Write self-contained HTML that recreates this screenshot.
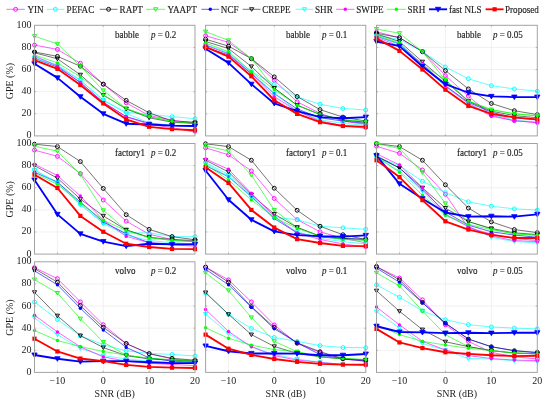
<!DOCTYPE html>
<html><head><meta charset="utf-8"><style>html,body{margin:0;padding:0;background:#fff;width:550px;height:404px;overflow:hidden;}svg{display:block;}</style></head>
<body>
<svg width="550" height="404" viewBox="0 0 550 404" font-family="Liberation Serif, serif">
<style>text.b{stroke:#1c1c1c;stroke-width:0.15px;}</style>
<rect width="550" height="404" fill="#fff"/>
<line x1="57.43" y1="25.30" x2="57.43" y2="135.90" stroke="#e8e8e8" stroke-width="0.6"/>
<line x1="103.29" y1="25.30" x2="103.29" y2="135.90" stroke="#e8e8e8" stroke-width="0.6"/>
<line x1="149.14" y1="25.30" x2="149.14" y2="135.90" stroke="#e8e8e8" stroke-width="0.6"/>
<line x1="34.50" y1="113.78" x2="195.00" y2="113.78" stroke="#e8e8e8" stroke-width="0.6"/>
<line x1="34.50" y1="91.66" x2="195.00" y2="91.66" stroke="#e8e8e8" stroke-width="0.6"/>
<line x1="34.50" y1="69.54" x2="195.00" y2="69.54" stroke="#e8e8e8" stroke-width="0.6"/>
<line x1="34.50" y1="47.42" x2="195.00" y2="47.42" stroke="#e8e8e8" stroke-width="0.6"/>
<text class="b" transform="translate(115.00,37.70) scale(0.9,1)" font-size="10.0" fill="#1c1c1c">babble</text>
<text class="b" transform="translate(150.90,37.70) scale(0.9,1)" font-size="10.0" fill="#1c1c1c"><tspan font-style="italic">p</tspan> = 0.2</text>
<polyline points="34.50,45.04 57.43,49.44 80.36,63.22 103.29,84.16 126.21,102.89 149.14,115.56 172.07,119.97 195.00,123.28" fill="none" stroke="#ff00ff" stroke-width="0.62" stroke-linejoin="round"/>
<circle cx="34.50" cy="45.04" r="1.95" fill="none" stroke="#ff00ff" stroke-width="0.95"/>
<circle cx="57.43" cy="49.44" r="1.95" fill="none" stroke="#ff00ff" stroke-width="0.95"/>
<circle cx="80.36" cy="63.22" r="1.95" fill="none" stroke="#ff00ff" stroke-width="0.95"/>
<circle cx="103.29" cy="84.16" r="1.95" fill="none" stroke="#ff00ff" stroke-width="0.95"/>
<circle cx="126.21" cy="102.89" r="1.95" fill="none" stroke="#ff00ff" stroke-width="0.95"/>
<circle cx="149.14" cy="115.56" r="1.95" fill="none" stroke="#ff00ff" stroke-width="0.95"/>
<circle cx="172.07" cy="119.97" r="1.95" fill="none" stroke="#ff00ff" stroke-width="0.95"/>
<circle cx="195.00" cy="123.28" r="1.95" fill="none" stroke="#ff00ff" stroke-width="0.95"/>
<polyline points="34.50,57.16 57.43,64.87 80.36,80.30 103.29,100.14 126.21,112.26 149.14,114.46 172.07,116.67 195.00,118.65" fill="none" stroke="#00ffff" stroke-width="0.62" stroke-linejoin="round"/>
<circle cx="34.50" cy="57.16" r="1.95" fill="none" stroke="#00ffff" stroke-width="0.95"/>
<circle cx="57.43" cy="64.87" r="1.95" fill="none" stroke="#00ffff" stroke-width="0.95"/>
<circle cx="80.36" cy="80.30" r="1.95" fill="none" stroke="#00ffff" stroke-width="0.95"/>
<circle cx="103.29" cy="100.14" r="1.95" fill="none" stroke="#00ffff" stroke-width="0.95"/>
<circle cx="126.21" cy="112.26" r="1.95" fill="none" stroke="#00ffff" stroke-width="0.95"/>
<circle cx="149.14" cy="114.46" r="1.95" fill="none" stroke="#00ffff" stroke-width="0.95"/>
<circle cx="172.07" cy="116.67" r="1.95" fill="none" stroke="#00ffff" stroke-width="0.95"/>
<circle cx="195.00" cy="118.65" r="1.95" fill="none" stroke="#00ffff" stroke-width="0.95"/>
<polyline points="34.50,51.98 57.43,56.39 80.36,66.19 103.29,84.16 126.21,100.36 149.14,112.81 172.07,121.07 195.00,122.18" fill="none" stroke="#000000" stroke-width="0.55" stroke-linejoin="round"/>
<circle cx="34.50" cy="51.98" r="1.95" fill="none" stroke="#000000" stroke-width="0.95"/>
<circle cx="57.43" cy="56.39" r="1.95" fill="none" stroke="#000000" stroke-width="0.95"/>
<circle cx="80.36" cy="66.19" r="1.95" fill="none" stroke="#000000" stroke-width="0.95"/>
<circle cx="103.29" cy="84.16" r="1.95" fill="none" stroke="#000000" stroke-width="0.95"/>
<circle cx="126.21" cy="100.36" r="1.95" fill="none" stroke="#000000" stroke-width="0.95"/>
<circle cx="149.14" cy="112.81" r="1.95" fill="none" stroke="#000000" stroke-width="0.95"/>
<circle cx="172.07" cy="121.07" r="1.95" fill="none" stroke="#000000" stroke-width="0.95"/>
<circle cx="195.00" cy="122.18" r="1.95" fill="none" stroke="#000000" stroke-width="0.95"/>
<polyline points="34.50,36.22 57.43,43.93 80.36,66.19 103.29,90.44 126.21,108.51 149.14,116.67 172.07,121.29 195.00,123.72" fill="none" stroke="#00ff00" stroke-width="0.62" stroke-linejoin="round"/>
<path d="M32.40,34.64L36.60,34.64L34.50,38.21Z" fill="none" stroke="#00ff00" stroke-width="0.9"/>
<path d="M55.33,42.36L59.53,42.36L57.43,45.93Z" fill="none" stroke="#00ff00" stroke-width="0.9"/>
<path d="M78.26,64.62L82.46,64.62L80.36,68.19Z" fill="none" stroke="#00ff00" stroke-width="0.9"/>
<path d="M101.19,88.86L105.39,88.86L103.29,92.43Z" fill="none" stroke="#00ff00" stroke-width="0.9"/>
<path d="M124.11,106.94L128.31,106.94L126.21,110.51Z" fill="none" stroke="#00ff00" stroke-width="0.9"/>
<path d="M147.04,115.09L151.24,115.09L149.14,118.66Z" fill="none" stroke="#00ff00" stroke-width="0.9"/>
<path d="M169.97,119.72L174.17,119.72L172.07,123.29Z" fill="none" stroke="#00ff00" stroke-width="0.9"/>
<path d="M192.90,122.14L197.10,122.14L195.00,125.71Z" fill="none" stroke="#00ff00" stroke-width="0.9"/>
<polyline points="34.50,58.26 57.43,67.08 80.36,82.50 103.29,102.34 126.21,116.67 149.14,123.28 172.07,125.48 195.00,126.58" fill="none" stroke="#0000ff" stroke-width="0.62" stroke-linejoin="round"/>
<circle cx="34.50" cy="58.26" r="1.7" fill="#0000ff"/>
<circle cx="57.43" cy="67.08" r="1.7" fill="#0000ff"/>
<circle cx="80.36" cy="82.50" r="1.7" fill="#0000ff"/>
<circle cx="103.29" cy="102.34" r="1.7" fill="#0000ff"/>
<circle cx="126.21" cy="116.67" r="1.7" fill="#0000ff"/>
<circle cx="149.14" cy="123.28" r="1.7" fill="#0000ff"/>
<circle cx="172.07" cy="125.48" r="1.7" fill="#0000ff"/>
<circle cx="195.00" cy="126.58" r="1.7" fill="#0000ff"/>
<polyline points="34.50,52.75 57.43,58.81 80.36,74.79 103.29,95.07 126.21,108.95 149.14,117.77 172.07,122.18 195.00,123.28" fill="none" stroke="#000000" stroke-width="0.55" stroke-linejoin="round"/>
<path d="M32.40,51.17L36.60,51.17L34.50,54.74Z" fill="none" stroke="#000000" stroke-width="0.9"/>
<path d="M55.33,57.24L59.53,57.24L57.43,60.81Z" fill="none" stroke="#000000" stroke-width="0.9"/>
<path d="M78.26,73.22L82.46,73.22L80.36,76.79Z" fill="none" stroke="#000000" stroke-width="0.9"/>
<path d="M101.19,93.49L105.39,93.49L103.29,97.06Z" fill="none" stroke="#000000" stroke-width="0.9"/>
<path d="M124.11,107.38L128.31,107.38L126.21,110.95Z" fill="none" stroke="#000000" stroke-width="0.9"/>
<path d="M147.04,116.19L151.24,116.19L149.14,119.76Z" fill="none" stroke="#000000" stroke-width="0.9"/>
<path d="M169.97,120.60L174.17,120.60L172.07,124.17Z" fill="none" stroke="#000000" stroke-width="0.9"/>
<path d="M192.90,121.70L197.10,121.70L195.00,125.27Z" fill="none" stroke="#000000" stroke-width="0.9"/>
<polyline points="34.50,58.26 57.43,65.97 80.36,80.30 103.29,100.14 126.21,113.47 149.14,122.95 172.07,125.48 195.00,126.58" fill="none" stroke="#00ffff" stroke-width="0.62" stroke-linejoin="round"/>
<path d="M32.40,56.69L36.60,56.69L34.50,60.26Z" fill="none" stroke="#00ffff" stroke-width="0.9"/>
<path d="M55.33,64.40L59.53,64.40L57.43,67.97Z" fill="none" stroke="#00ffff" stroke-width="0.9"/>
<path d="M78.26,78.72L82.46,78.72L80.36,82.30Z" fill="none" stroke="#00ffff" stroke-width="0.9"/>
<path d="M101.19,98.56L105.39,98.56L103.29,102.13Z" fill="none" stroke="#00ffff" stroke-width="0.9"/>
<path d="M124.11,111.90L128.31,111.90L126.21,115.47Z" fill="none" stroke="#00ffff" stroke-width="0.9"/>
<path d="M147.04,121.37L151.24,121.37L149.14,124.94Z" fill="none" stroke="#00ffff" stroke-width="0.9"/>
<path d="M169.97,123.91L174.17,123.91L172.07,127.48Z" fill="none" stroke="#00ffff" stroke-width="0.9"/>
<path d="M192.90,125.01L197.10,125.01L195.00,128.58Z" fill="none" stroke="#00ffff" stroke-width="0.9"/>
<polyline points="34.50,56.06 57.43,65.97 80.36,82.50 103.29,102.34 126.21,116.67 149.14,124.38 172.07,127.69 195.00,132.09" fill="none" stroke="#ff00ff" stroke-width="0.62" stroke-linejoin="round"/>
<circle cx="34.50" cy="56.06" r="1.7" fill="#ff00ff"/>
<circle cx="57.43" cy="65.97" r="1.7" fill="#ff00ff"/>
<circle cx="80.36" cy="82.50" r="1.7" fill="#ff00ff"/>
<circle cx="103.29" cy="102.34" r="1.7" fill="#ff00ff"/>
<circle cx="126.21" cy="116.67" r="1.7" fill="#ff00ff"/>
<circle cx="149.14" cy="124.38" r="1.7" fill="#ff00ff"/>
<circle cx="172.07" cy="127.69" r="1.7" fill="#ff00ff"/>
<circle cx="195.00" cy="132.09" r="1.7" fill="#ff00ff"/>
<polyline points="34.50,54.95 57.43,62.89 80.36,76.77 103.29,95.07 126.21,108.51 149.14,116.67 172.07,121.29 195.00,123.72" fill="none" stroke="#00ff00" stroke-width="0.62" stroke-linejoin="round"/>
<circle cx="34.50" cy="54.95" r="1.7" fill="#00ff00"/>
<circle cx="57.43" cy="62.89" r="1.7" fill="#00ff00"/>
<circle cx="80.36" cy="76.77" r="1.7" fill="#00ff00"/>
<circle cx="103.29" cy="95.07" r="1.7" fill="#00ff00"/>
<circle cx="126.21" cy="108.51" r="1.7" fill="#00ff00"/>
<circle cx="149.14" cy="116.67" r="1.7" fill="#00ff00"/>
<circle cx="172.07" cy="121.29" r="1.7" fill="#00ff00"/>
<circle cx="195.00" cy="123.72" r="1.7" fill="#00ff00"/>
<polyline points="34.50,63.77 57.43,77.88 80.36,96.72 103.29,113.80 126.21,123.72 149.14,124.49 172.07,125.59 195.00,126.03" fill="none" stroke="#0000ff" stroke-width="1.85" stroke-linejoin="round"/>
<path d="M31.80,61.74L37.20,61.74L34.50,66.33Z" fill="#0000ff" stroke="#0000ff" stroke-width="0.8"/>
<path d="M54.73,75.85L60.13,75.85L57.43,80.44Z" fill="#0000ff" stroke="#0000ff" stroke-width="0.8"/>
<path d="M77.66,94.69L83.06,94.69L80.36,99.28Z" fill="#0000ff" stroke="#0000ff" stroke-width="0.8"/>
<path d="M100.59,111.78L105.99,111.78L103.29,116.37Z" fill="#0000ff" stroke="#0000ff" stroke-width="0.8"/>
<path d="M123.51,121.69L128.91,121.69L126.21,126.28Z" fill="#0000ff" stroke="#0000ff" stroke-width="0.8"/>
<path d="M146.44,122.47L151.84,122.47L149.14,127.06Z" fill="#0000ff" stroke="#0000ff" stroke-width="0.8"/>
<path d="M169.37,123.57L174.77,123.57L172.07,128.16Z" fill="#0000ff" stroke="#0000ff" stroke-width="0.8"/>
<path d="M192.30,124.01L197.70,124.01L195.00,128.60Z" fill="#0000ff" stroke="#0000ff" stroke-width="0.8"/>
<polyline points="34.50,60.24 57.43,68.84 80.36,85.04 103.29,103.44 126.21,119.31 149.14,126.80 172.07,129.12 195.00,130.22" fill="none" stroke="#ff0000" stroke-width="1.85" stroke-linejoin="round"/>
<rect x="32.40" y="58.14" width="4.20" height="4.20" fill="#ff0000"/>
<rect x="55.33" y="66.74" width="4.20" height="4.20" fill="#ff0000"/>
<rect x="78.26" y="82.94" width="4.20" height="4.20" fill="#ff0000"/>
<rect x="101.19" y="101.34" width="4.20" height="4.20" fill="#ff0000"/>
<rect x="124.11" y="117.21" width="4.20" height="4.20" fill="#ff0000"/>
<rect x="147.04" y="124.70" width="4.20" height="4.20" fill="#ff0000"/>
<rect x="169.97" y="127.02" width="4.20" height="4.20" fill="#ff0000"/>
<rect x="192.90" y="128.12" width="4.20" height="4.20" fill="#ff0000"/>
<rect x="34.50" y="25.30" width="160.50" height="110.60" fill="none" stroke="#a3a3a3" stroke-width="1"/>
<line x1="57.43" y1="135.90" x2="57.43" y2="134.30" stroke="#a3a3a3" stroke-width="0.8"/>
<line x1="57.43" y1="25.30" x2="57.43" y2="26.90" stroke="#a3a3a3" stroke-width="0.8"/>
<line x1="103.29" y1="135.90" x2="103.29" y2="134.30" stroke="#a3a3a3" stroke-width="0.8"/>
<line x1="103.29" y1="25.30" x2="103.29" y2="26.90" stroke="#a3a3a3" stroke-width="0.8"/>
<line x1="149.14" y1="135.90" x2="149.14" y2="134.30" stroke="#a3a3a3" stroke-width="0.8"/>
<line x1="149.14" y1="25.30" x2="149.14" y2="26.90" stroke="#a3a3a3" stroke-width="0.8"/>
<line x1="34.50" y1="113.78" x2="36.10" y2="113.78" stroke="#a3a3a3" stroke-width="0.8"/>
<line x1="195.00" y1="113.78" x2="193.40" y2="113.78" stroke="#a3a3a3" stroke-width="0.8"/>
<line x1="34.50" y1="91.66" x2="36.10" y2="91.66" stroke="#a3a3a3" stroke-width="0.8"/>
<line x1="195.00" y1="91.66" x2="193.40" y2="91.66" stroke="#a3a3a3" stroke-width="0.8"/>
<line x1="34.50" y1="69.54" x2="36.10" y2="69.54" stroke="#a3a3a3" stroke-width="0.8"/>
<line x1="195.00" y1="69.54" x2="193.40" y2="69.54" stroke="#a3a3a3" stroke-width="0.8"/>
<line x1="34.50" y1="47.42" x2="36.10" y2="47.42" stroke="#a3a3a3" stroke-width="0.8"/>
<line x1="195.00" y1="47.42" x2="193.40" y2="47.42" stroke="#a3a3a3" stroke-width="0.8"/>
<text x="31.50" y="138.40" font-size="10" text-anchor="end" fill="#1c1c1c">0</text>
<text x="31.50" y="116.28" font-size="10" text-anchor="end" fill="#1c1c1c">20</text>
<text x="31.50" y="94.16" font-size="10" text-anchor="end" fill="#1c1c1c">40</text>
<text x="31.50" y="72.04" font-size="10" text-anchor="end" fill="#1c1c1c">60</text>
<text x="31.50" y="49.92" font-size="10" text-anchor="end" fill="#1c1c1c">80</text>
<text x="31.50" y="27.80" font-size="10" text-anchor="end" fill="#1c1c1c">100</text>
<text x="0" y="0" transform="translate(12.8,81.10) rotate(-90) scale(1.04,1)" font-size="9.6" text-anchor="middle" fill="#1c1c1c">GPE (%)</text>
<line x1="228.49" y1="25.30" x2="228.49" y2="135.90" stroke="#e8e8e8" stroke-width="0.6"/>
<line x1="274.26" y1="25.30" x2="274.26" y2="135.90" stroke="#e8e8e8" stroke-width="0.6"/>
<line x1="320.03" y1="25.30" x2="320.03" y2="135.90" stroke="#e8e8e8" stroke-width="0.6"/>
<line x1="205.60" y1="113.78" x2="365.80" y2="113.78" stroke="#e8e8e8" stroke-width="0.6"/>
<line x1="205.60" y1="91.66" x2="365.80" y2="91.66" stroke="#e8e8e8" stroke-width="0.6"/>
<line x1="205.60" y1="69.54" x2="365.80" y2="69.54" stroke="#e8e8e8" stroke-width="0.6"/>
<line x1="205.60" y1="47.42" x2="365.80" y2="47.42" stroke="#e8e8e8" stroke-width="0.6"/>
<text class="b" transform="translate(286.10,37.70) scale(0.9,1)" font-size="10.0" fill="#1c1c1c">babble</text>
<text class="b" transform="translate(322.00,37.70) scale(0.9,1)" font-size="10.0" fill="#1c1c1c"><tspan font-style="italic">p</tspan> = 0.1</text>
<polyline points="205.60,35.78 228.49,42.28 251.37,58.70 274.26,80.30 297.14,101.79 320.03,113.36 342.91,121.07 365.80,124.38" fill="none" stroke="#ff00ff" stroke-width="0.62" stroke-linejoin="round"/>
<circle cx="205.60" cy="35.78" r="1.95" fill="none" stroke="#ff00ff" stroke-width="0.95"/>
<circle cx="228.49" cy="42.28" r="1.95" fill="none" stroke="#ff00ff" stroke-width="0.95"/>
<circle cx="251.37" cy="58.70" r="1.95" fill="none" stroke="#ff00ff" stroke-width="0.95"/>
<circle cx="274.26" cy="80.30" r="1.95" fill="none" stroke="#ff00ff" stroke-width="0.95"/>
<circle cx="297.14" cy="101.79" r="1.95" fill="none" stroke="#ff00ff" stroke-width="0.95"/>
<circle cx="320.03" cy="113.36" r="1.95" fill="none" stroke="#ff00ff" stroke-width="0.95"/>
<circle cx="342.91" cy="121.07" r="1.95" fill="none" stroke="#ff00ff" stroke-width="0.95"/>
<circle cx="365.80" cy="124.38" r="1.95" fill="none" stroke="#ff00ff" stroke-width="0.95"/>
<polyline points="205.60,44.48 228.49,52.75 251.37,71.48 274.26,84.16 297.14,96.83 320.03,104.21 342.91,108.51 365.80,109.94" fill="none" stroke="#00ffff" stroke-width="0.62" stroke-linejoin="round"/>
<circle cx="205.60" cy="44.48" r="1.95" fill="none" stroke="#00ffff" stroke-width="0.95"/>
<circle cx="228.49" cy="52.75" r="1.95" fill="none" stroke="#00ffff" stroke-width="0.95"/>
<circle cx="251.37" cy="71.48" r="1.95" fill="none" stroke="#00ffff" stroke-width="0.95"/>
<circle cx="274.26" cy="84.16" r="1.95" fill="none" stroke="#00ffff" stroke-width="0.95"/>
<circle cx="297.14" cy="96.83" r="1.95" fill="none" stroke="#00ffff" stroke-width="0.95"/>
<circle cx="320.03" cy="104.21" r="1.95" fill="none" stroke="#00ffff" stroke-width="0.95"/>
<circle cx="342.91" cy="108.51" r="1.95" fill="none" stroke="#00ffff" stroke-width="0.95"/>
<circle cx="365.80" cy="109.94" r="1.95" fill="none" stroke="#00ffff" stroke-width="0.95"/>
<polyline points="205.60,39.20 228.49,46.14 251.37,58.70 274.26,76.88 297.14,96.50 320.03,109.61 342.91,117.11 365.80,121.07" fill="none" stroke="#000000" stroke-width="0.55" stroke-linejoin="round"/>
<circle cx="205.60" cy="39.20" r="1.95" fill="none" stroke="#000000" stroke-width="0.95"/>
<circle cx="228.49" cy="46.14" r="1.95" fill="none" stroke="#000000" stroke-width="0.95"/>
<circle cx="251.37" cy="58.70" r="1.95" fill="none" stroke="#000000" stroke-width="0.95"/>
<circle cx="274.26" cy="76.88" r="1.95" fill="none" stroke="#000000" stroke-width="0.95"/>
<circle cx="297.14" cy="96.50" r="1.95" fill="none" stroke="#000000" stroke-width="0.95"/>
<circle cx="320.03" cy="109.61" r="1.95" fill="none" stroke="#000000" stroke-width="0.95"/>
<circle cx="342.91" cy="117.11" r="1.95" fill="none" stroke="#000000" stroke-width="0.95"/>
<circle cx="365.80" cy="121.07" r="1.95" fill="none" stroke="#000000" stroke-width="0.95"/>
<polyline points="205.60,31.70 228.49,40.41 251.37,58.70 274.26,88.12 297.14,105.21 320.03,114.46 342.91,119.97 365.80,122.18" fill="none" stroke="#00ff00" stroke-width="0.62" stroke-linejoin="round"/>
<path d="M203.50,30.13L207.70,30.13L205.60,33.70Z" fill="none" stroke="#00ff00" stroke-width="0.9"/>
<path d="M226.39,38.83L230.59,38.83L228.49,42.40Z" fill="none" stroke="#00ff00" stroke-width="0.9"/>
<path d="M249.27,57.13L253.47,57.13L251.37,60.70Z" fill="none" stroke="#00ff00" stroke-width="0.9"/>
<path d="M272.16,86.55L276.36,86.55L274.26,90.12Z" fill="none" stroke="#00ff00" stroke-width="0.9"/>
<path d="M295.04,103.63L299.24,103.63L297.14,107.20Z" fill="none" stroke="#00ff00" stroke-width="0.9"/>
<path d="M317.93,112.89L322.13,112.89L320.03,116.46Z" fill="none" stroke="#00ff00" stroke-width="0.9"/>
<path d="M340.81,118.40L345.01,118.40L342.91,121.97Z" fill="none" stroke="#00ff00" stroke-width="0.9"/>
<path d="M363.70,120.60L367.90,120.60L365.80,124.17Z" fill="none" stroke="#00ff00" stroke-width="0.9"/>
<polyline points="205.60,47.24 228.49,54.95 251.37,73.69 274.26,93.52 297.14,108.95 320.03,117.77 342.91,121.07 365.80,123.28" fill="none" stroke="#0000ff" stroke-width="0.62" stroke-linejoin="round"/>
<circle cx="205.60" cy="47.24" r="1.7" fill="#0000ff"/>
<circle cx="228.49" cy="54.95" r="1.7" fill="#0000ff"/>
<circle cx="251.37" cy="73.69" r="1.7" fill="#0000ff"/>
<circle cx="274.26" cy="93.52" r="1.7" fill="#0000ff"/>
<circle cx="297.14" cy="108.95" r="1.7" fill="#0000ff"/>
<circle cx="320.03" cy="117.77" r="1.7" fill="#0000ff"/>
<circle cx="342.91" cy="121.07" r="1.7" fill="#0000ff"/>
<circle cx="365.80" cy="123.28" r="1.7" fill="#0000ff"/>
<polyline points="205.60,41.51 228.49,48.56 251.37,66.53 274.26,88.12 297.14,105.21 320.03,114.46 342.91,119.97 365.80,122.18" fill="none" stroke="#000000" stroke-width="0.55" stroke-linejoin="round"/>
<path d="M203.50,39.93L207.70,39.93L205.60,43.50Z" fill="none" stroke="#000000" stroke-width="0.9"/>
<path d="M226.39,46.99L230.59,46.99L228.49,50.56Z" fill="none" stroke="#000000" stroke-width="0.9"/>
<path d="M249.27,64.95L253.47,64.95L251.37,68.52Z" fill="none" stroke="#000000" stroke-width="0.9"/>
<path d="M272.16,86.55L276.36,86.55L274.26,90.12Z" fill="none" stroke="#000000" stroke-width="0.9"/>
<path d="M295.04,103.63L299.24,103.63L297.14,107.20Z" fill="none" stroke="#000000" stroke-width="0.9"/>
<path d="M317.93,112.89L322.13,112.89L320.03,116.46Z" fill="none" stroke="#000000" stroke-width="0.9"/>
<path d="M340.81,118.40L345.01,118.40L342.91,121.97Z" fill="none" stroke="#000000" stroke-width="0.9"/>
<path d="M363.70,120.60L367.90,120.60L365.80,124.17Z" fill="none" stroke="#000000" stroke-width="0.9"/>
<polyline points="205.60,45.04 228.49,53.85 251.37,72.59 274.26,93.52 297.14,111.16 320.03,119.97 342.91,123.28 365.80,125.48" fill="none" stroke="#00ffff" stroke-width="0.62" stroke-linejoin="round"/>
<path d="M203.50,43.46L207.70,43.46L205.60,47.03Z" fill="none" stroke="#00ffff" stroke-width="0.9"/>
<path d="M226.39,52.28L230.59,52.28L228.49,55.85Z" fill="none" stroke="#00ffff" stroke-width="0.9"/>
<path d="M249.27,71.01L253.47,71.01L251.37,74.58Z" fill="none" stroke="#00ffff" stroke-width="0.9"/>
<path d="M272.16,91.95L276.36,91.95L274.26,95.52Z" fill="none" stroke="#00ffff" stroke-width="0.9"/>
<path d="M295.04,109.58L299.24,109.58L297.14,113.15Z" fill="none" stroke="#00ffff" stroke-width="0.9"/>
<path d="M317.93,118.40L322.13,118.40L320.03,121.97Z" fill="none" stroke="#00ffff" stroke-width="0.9"/>
<path d="M340.81,121.70L345.01,121.70L342.91,125.27Z" fill="none" stroke="#00ffff" stroke-width="0.9"/>
<path d="M363.70,123.91L367.90,123.91L365.80,127.48Z" fill="none" stroke="#00ffff" stroke-width="0.9"/>
<polyline points="205.60,45.04 228.49,53.85 251.37,73.69 274.26,96.61 297.14,111.16 320.03,121.07 342.91,125.48 365.80,128.35" fill="none" stroke="#ff00ff" stroke-width="0.62" stroke-linejoin="round"/>
<circle cx="205.60" cy="45.04" r="1.7" fill="#ff00ff"/>
<circle cx="228.49" cy="53.85" r="1.7" fill="#ff00ff"/>
<circle cx="251.37" cy="73.69" r="1.7" fill="#ff00ff"/>
<circle cx="274.26" cy="96.61" r="1.7" fill="#ff00ff"/>
<circle cx="297.14" cy="111.16" r="1.7" fill="#ff00ff"/>
<circle cx="320.03" cy="121.07" r="1.7" fill="#ff00ff"/>
<circle cx="342.91" cy="125.48" r="1.7" fill="#ff00ff"/>
<circle cx="365.80" cy="128.35" r="1.7" fill="#ff00ff"/>
<polyline points="205.60,43.05 228.49,51.65 251.37,71.70 274.26,89.67 297.14,105.32 320.03,114.35 342.91,119.64 365.80,121.18" fill="none" stroke="#00ff00" stroke-width="0.62" stroke-linejoin="round"/>
<circle cx="205.60" cy="43.05" r="1.7" fill="#00ff00"/>
<circle cx="228.49" cy="51.65" r="1.7" fill="#00ff00"/>
<circle cx="251.37" cy="71.70" r="1.7" fill="#00ff00"/>
<circle cx="274.26" cy="89.67" r="1.7" fill="#00ff00"/>
<circle cx="297.14" cy="105.32" r="1.7" fill="#00ff00"/>
<circle cx="320.03" cy="114.35" r="1.7" fill="#00ff00"/>
<circle cx="342.91" cy="119.64" r="1.7" fill="#00ff00"/>
<circle cx="365.80" cy="121.18" r="1.7" fill="#00ff00"/>
<polyline points="205.60,48.78 228.49,62.89 251.37,84.16 274.26,103.44 297.14,111.16 320.03,117.11 342.91,118.21 365.80,117.11" fill="none" stroke="#0000ff" stroke-width="1.85" stroke-linejoin="round"/>
<path d="M202.90,46.76L208.30,46.76L205.60,51.35Z" fill="#0000ff" stroke="#0000ff" stroke-width="0.8"/>
<path d="M225.79,60.86L231.19,60.86L228.49,65.45Z" fill="#0000ff" stroke="#0000ff" stroke-width="0.8"/>
<path d="M248.67,82.13L254.07,82.13L251.37,86.72Z" fill="#0000ff" stroke="#0000ff" stroke-width="0.8"/>
<path d="M271.56,101.42L276.96,101.42L274.26,106.01Z" fill="#0000ff" stroke="#0000ff" stroke-width="0.8"/>
<path d="M294.44,109.13L299.84,109.13L297.14,113.72Z" fill="#0000ff" stroke="#0000ff" stroke-width="0.8"/>
<path d="M317.33,115.08L322.73,115.08L320.03,119.67Z" fill="#0000ff" stroke="#0000ff" stroke-width="0.8"/>
<path d="M340.21,116.18L345.61,116.18L342.91,120.77Z" fill="#0000ff" stroke="#0000ff" stroke-width="0.8"/>
<path d="M363.10,115.08L368.50,115.08L365.80,119.67Z" fill="#0000ff" stroke="#0000ff" stroke-width="0.8"/>
<polyline points="205.60,46.91 228.49,56.61 251.37,76.22 274.26,100.25 297.14,113.91 320.03,122.18 342.91,126.03 365.80,126.80" fill="none" stroke="#ff0000" stroke-width="1.85" stroke-linejoin="round"/>
<rect x="203.50" y="44.81" width="4.20" height="4.20" fill="#ff0000"/>
<rect x="226.39" y="54.51" width="4.20" height="4.20" fill="#ff0000"/>
<rect x="249.27" y="74.12" width="4.20" height="4.20" fill="#ff0000"/>
<rect x="272.16" y="98.15" width="4.20" height="4.20" fill="#ff0000"/>
<rect x="295.04" y="111.81" width="4.20" height="4.20" fill="#ff0000"/>
<rect x="317.93" y="120.08" width="4.20" height="4.20" fill="#ff0000"/>
<rect x="340.81" y="123.93" width="4.20" height="4.20" fill="#ff0000"/>
<rect x="363.70" y="124.70" width="4.20" height="4.20" fill="#ff0000"/>
<rect x="205.60" y="25.30" width="160.20" height="110.60" fill="none" stroke="#a3a3a3" stroke-width="1"/>
<line x1="228.49" y1="135.90" x2="228.49" y2="134.30" stroke="#a3a3a3" stroke-width="0.8"/>
<line x1="228.49" y1="25.30" x2="228.49" y2="26.90" stroke="#a3a3a3" stroke-width="0.8"/>
<line x1="274.26" y1="135.90" x2="274.26" y2="134.30" stroke="#a3a3a3" stroke-width="0.8"/>
<line x1="274.26" y1="25.30" x2="274.26" y2="26.90" stroke="#a3a3a3" stroke-width="0.8"/>
<line x1="320.03" y1="135.90" x2="320.03" y2="134.30" stroke="#a3a3a3" stroke-width="0.8"/>
<line x1="320.03" y1="25.30" x2="320.03" y2="26.90" stroke="#a3a3a3" stroke-width="0.8"/>
<line x1="205.60" y1="113.78" x2="207.20" y2="113.78" stroke="#a3a3a3" stroke-width="0.8"/>
<line x1="365.80" y1="113.78" x2="364.20" y2="113.78" stroke="#a3a3a3" stroke-width="0.8"/>
<line x1="205.60" y1="91.66" x2="207.20" y2="91.66" stroke="#a3a3a3" stroke-width="0.8"/>
<line x1="365.80" y1="91.66" x2="364.20" y2="91.66" stroke="#a3a3a3" stroke-width="0.8"/>
<line x1="205.60" y1="69.54" x2="207.20" y2="69.54" stroke="#a3a3a3" stroke-width="0.8"/>
<line x1="365.80" y1="69.54" x2="364.20" y2="69.54" stroke="#a3a3a3" stroke-width="0.8"/>
<line x1="205.60" y1="47.42" x2="207.20" y2="47.42" stroke="#a3a3a3" stroke-width="0.8"/>
<line x1="365.80" y1="47.42" x2="364.20" y2="47.42" stroke="#a3a3a3" stroke-width="0.8"/>
<line x1="399.47" y1="25.30" x2="399.47" y2="135.90" stroke="#e8e8e8" stroke-width="0.6"/>
<line x1="445.41" y1="25.30" x2="445.41" y2="135.90" stroke="#e8e8e8" stroke-width="0.6"/>
<line x1="491.36" y1="25.30" x2="491.36" y2="135.90" stroke="#e8e8e8" stroke-width="0.6"/>
<line x1="376.50" y1="113.78" x2="537.30" y2="113.78" stroke="#e8e8e8" stroke-width="0.6"/>
<line x1="376.50" y1="91.66" x2="537.30" y2="91.66" stroke="#e8e8e8" stroke-width="0.6"/>
<line x1="376.50" y1="69.54" x2="537.30" y2="69.54" stroke="#e8e8e8" stroke-width="0.6"/>
<line x1="376.50" y1="47.42" x2="537.30" y2="47.42" stroke="#e8e8e8" stroke-width="0.6"/>
<text class="b" transform="translate(457.00,37.70) scale(0.9,1)" font-size="10.0" fill="#1c1c1c">babble</text>
<text class="b" transform="translate(492.90,37.70) scale(0.9,1)" font-size="10.0" fill="#1c1c1c"><tspan font-style="italic">p</tspan> = 0.05</text>
<polyline points="376.50,31.81 399.47,37.65 422.44,51.65 445.41,75.56 468.39,96.17 491.36,115.34 514.33,120.74 537.30,122.40" fill="none" stroke="#ff00ff" stroke-width="0.62" stroke-linejoin="round"/>
<circle cx="376.50" cy="31.81" r="1.95" fill="none" stroke="#ff00ff" stroke-width="0.95"/>
<circle cx="399.47" cy="37.65" r="1.95" fill="none" stroke="#ff00ff" stroke-width="0.95"/>
<circle cx="422.44" cy="51.65" r="1.95" fill="none" stroke="#ff00ff" stroke-width="0.95"/>
<circle cx="445.41" cy="75.56" r="1.95" fill="none" stroke="#ff00ff" stroke-width="0.95"/>
<circle cx="468.39" cy="96.17" r="1.95" fill="none" stroke="#ff00ff" stroke-width="0.95"/>
<circle cx="491.36" cy="115.34" r="1.95" fill="none" stroke="#ff00ff" stroke-width="0.95"/>
<circle cx="514.33" cy="120.74" r="1.95" fill="none" stroke="#ff00ff" stroke-width="0.95"/>
<circle cx="537.30" cy="122.40" r="1.95" fill="none" stroke="#ff00ff" stroke-width="0.95"/>
<polyline points="376.50,35.12 399.47,39.53 422.44,51.65 445.41,66.97 468.39,78.76 491.36,85.70 514.33,88.90 537.30,91.21" fill="none" stroke="#00ffff" stroke-width="0.62" stroke-linejoin="round"/>
<circle cx="376.50" cy="35.12" r="1.95" fill="none" stroke="#00ffff" stroke-width="0.95"/>
<circle cx="399.47" cy="39.53" r="1.95" fill="none" stroke="#00ffff" stroke-width="0.95"/>
<circle cx="422.44" cy="51.65" r="1.95" fill="none" stroke="#00ffff" stroke-width="0.95"/>
<circle cx="445.41" cy="66.97" r="1.95" fill="none" stroke="#00ffff" stroke-width="0.95"/>
<circle cx="468.39" cy="78.76" r="1.95" fill="none" stroke="#00ffff" stroke-width="0.95"/>
<circle cx="491.36" cy="85.70" r="1.95" fill="none" stroke="#00ffff" stroke-width="0.95"/>
<circle cx="514.33" cy="88.90" r="1.95" fill="none" stroke="#00ffff" stroke-width="0.95"/>
<circle cx="537.30" cy="91.21" r="1.95" fill="none" stroke="#00ffff" stroke-width="0.95"/>
<polyline points="376.50,33.24 399.47,37.65 422.44,51.65 445.41,70.60 468.39,88.90 491.36,103.44 514.33,110.72 537.30,114.57" fill="none" stroke="#000000" stroke-width="0.55" stroke-linejoin="round"/>
<circle cx="376.50" cy="33.24" r="1.95" fill="none" stroke="#000000" stroke-width="0.95"/>
<circle cx="399.47" cy="37.65" r="1.95" fill="none" stroke="#000000" stroke-width="0.95"/>
<circle cx="422.44" cy="51.65" r="1.95" fill="none" stroke="#000000" stroke-width="0.95"/>
<circle cx="445.41" cy="70.60" r="1.95" fill="none" stroke="#000000" stroke-width="0.95"/>
<circle cx="468.39" cy="88.90" r="1.95" fill="none" stroke="#000000" stroke-width="0.95"/>
<circle cx="491.36" cy="103.44" r="1.95" fill="none" stroke="#000000" stroke-width="0.95"/>
<circle cx="514.33" cy="110.72" r="1.95" fill="none" stroke="#000000" stroke-width="0.95"/>
<circle cx="537.30" cy="114.57" r="1.95" fill="none" stroke="#000000" stroke-width="0.95"/>
<polyline points="376.50,29.06 399.47,33.24 422.44,51.65 445.41,79.97 468.39,100.91 491.36,109.61 514.33,113.80 537.30,115.78" fill="none" stroke="#00ff00" stroke-width="0.62" stroke-linejoin="round"/>
<path d="M374.40,27.48L378.60,27.48L376.50,31.05Z" fill="none" stroke="#00ff00" stroke-width="0.9"/>
<path d="M397.37,31.67L401.57,31.67L399.47,35.24Z" fill="none" stroke="#00ff00" stroke-width="0.9"/>
<path d="M420.34,50.07L424.54,50.07L422.44,53.64Z" fill="none" stroke="#00ff00" stroke-width="0.9"/>
<path d="M443.31,78.39L447.51,78.39L445.41,81.96Z" fill="none" stroke="#00ff00" stroke-width="0.9"/>
<path d="M466.29,99.33L470.49,99.33L468.39,102.90Z" fill="none" stroke="#00ff00" stroke-width="0.9"/>
<path d="M489.26,108.04L493.46,108.04L491.36,111.61Z" fill="none" stroke="#00ff00" stroke-width="0.9"/>
<path d="M512.23,112.23L516.43,112.23L514.33,115.80Z" fill="none" stroke="#00ff00" stroke-width="0.9"/>
<path d="M535.20,114.21L539.40,114.21L537.30,117.78Z" fill="none" stroke="#00ff00" stroke-width="0.9"/>
<polyline points="376.50,36.22 399.47,43.93 422.44,64.87 445.41,85.81 468.39,102.34 491.36,112.26 514.33,117.77 537.30,119.97" fill="none" stroke="#0000ff" stroke-width="0.62" stroke-linejoin="round"/>
<circle cx="376.50" cy="36.22" r="1.7" fill="#0000ff"/>
<circle cx="399.47" cy="43.93" r="1.7" fill="#0000ff"/>
<circle cx="422.44" cy="64.87" r="1.7" fill="#0000ff"/>
<circle cx="445.41" cy="85.81" r="1.7" fill="#0000ff"/>
<circle cx="468.39" cy="102.34" r="1.7" fill="#0000ff"/>
<circle cx="491.36" cy="112.26" r="1.7" fill="#0000ff"/>
<circle cx="514.33" cy="117.77" r="1.7" fill="#0000ff"/>
<circle cx="537.30" cy="119.97" r="1.7" fill="#0000ff"/>
<polyline points="376.50,34.02 399.47,41.51 422.44,61.79 445.41,81.40 468.39,101.24 491.36,111.16 514.33,115.56 537.30,117.77" fill="none" stroke="#000000" stroke-width="0.55" stroke-linejoin="round"/>
<path d="M374.40,32.44L378.60,32.44L376.50,36.01Z" fill="none" stroke="#000000" stroke-width="0.9"/>
<path d="M397.37,39.93L401.57,39.93L399.47,43.50Z" fill="none" stroke="#000000" stroke-width="0.9"/>
<path d="M420.34,60.21L424.54,60.21L422.44,63.78Z" fill="none" stroke="#000000" stroke-width="0.9"/>
<path d="M443.31,79.83L447.51,79.83L445.41,83.40Z" fill="none" stroke="#000000" stroke-width="0.9"/>
<path d="M466.29,99.66L470.49,99.66L468.39,103.23Z" fill="none" stroke="#000000" stroke-width="0.9"/>
<path d="M489.26,109.58L493.46,109.58L491.36,113.15Z" fill="none" stroke="#000000" stroke-width="0.9"/>
<path d="M512.23,113.99L516.43,113.99L514.33,117.56Z" fill="none" stroke="#000000" stroke-width="0.9"/>
<path d="M535.20,116.19L539.40,116.19L537.30,119.76Z" fill="none" stroke="#000000" stroke-width="0.9"/>
<polyline points="376.50,36.22 399.47,43.93 422.44,65.97 445.41,86.91 468.39,103.44 491.36,114.46 514.33,119.97 537.30,122.18" fill="none" stroke="#00ffff" stroke-width="0.62" stroke-linejoin="round"/>
<path d="M374.40,34.64L378.60,34.64L376.50,38.21Z" fill="none" stroke="#00ffff" stroke-width="0.9"/>
<path d="M397.37,42.36L401.57,42.36L399.47,45.93Z" fill="none" stroke="#00ffff" stroke-width="0.9"/>
<path d="M420.34,64.40L424.54,64.40L422.44,67.97Z" fill="none" stroke="#00ffff" stroke-width="0.9"/>
<path d="M443.31,85.34L447.51,85.34L445.41,88.91Z" fill="none" stroke="#00ffff" stroke-width="0.9"/>
<path d="M466.29,101.87L470.49,101.87L468.39,105.44Z" fill="none" stroke="#00ffff" stroke-width="0.9"/>
<path d="M489.26,112.89L493.46,112.89L491.36,116.46Z" fill="none" stroke="#00ffff" stroke-width="0.9"/>
<path d="M512.23,118.40L516.43,118.40L514.33,121.97Z" fill="none" stroke="#00ffff" stroke-width="0.9"/>
<path d="M535.20,120.60L539.40,120.60L537.30,124.17Z" fill="none" stroke="#00ffff" stroke-width="0.9"/>
<polyline points="376.50,37.32 399.47,46.14 422.44,63.33 445.41,85.81 468.39,103.44 491.36,116.23 514.33,120.74 537.30,122.73" fill="none" stroke="#ff00ff" stroke-width="0.62" stroke-linejoin="round"/>
<circle cx="376.50" cy="37.32" r="1.7" fill="#ff00ff"/>
<circle cx="399.47" cy="46.14" r="1.7" fill="#ff00ff"/>
<circle cx="422.44" cy="63.33" r="1.7" fill="#ff00ff"/>
<circle cx="445.41" cy="85.81" r="1.7" fill="#ff00ff"/>
<circle cx="468.39" cy="103.44" r="1.7" fill="#ff00ff"/>
<circle cx="491.36" cy="116.23" r="1.7" fill="#ff00ff"/>
<circle cx="514.33" cy="120.74" r="1.7" fill="#ff00ff"/>
<circle cx="537.30" cy="122.73" r="1.7" fill="#ff00ff"/>
<polyline points="376.50,35.12 399.47,42.83 422.44,64.87 445.41,79.97 468.39,100.91 491.36,109.83 514.33,113.80 537.30,115.78" fill="none" stroke="#00ff00" stroke-width="0.62" stroke-linejoin="round"/>
<circle cx="376.50" cy="35.12" r="1.7" fill="#00ff00"/>
<circle cx="399.47" cy="42.83" r="1.7" fill="#00ff00"/>
<circle cx="422.44" cy="64.87" r="1.7" fill="#00ff00"/>
<circle cx="445.41" cy="79.97" r="1.7" fill="#00ff00"/>
<circle cx="468.39" cy="100.91" r="1.7" fill="#00ff00"/>
<circle cx="491.36" cy="109.83" r="1.7" fill="#00ff00"/>
<circle cx="514.33" cy="113.80" r="1.7" fill="#00ff00"/>
<circle cx="537.30" cy="115.78" r="1.7" fill="#00ff00"/>
<polyline points="376.50,41.51 399.47,46.14 422.44,66.53 445.41,84.16 468.39,92.75 491.36,96.39 514.33,97.05 537.30,97.05" fill="none" stroke="#0000ff" stroke-width="1.85" stroke-linejoin="round"/>
<path d="M373.80,39.48L379.20,39.48L376.50,44.07Z" fill="#0000ff" stroke="#0000ff" stroke-width="0.8"/>
<path d="M396.77,44.11L402.17,44.11L399.47,48.70Z" fill="#0000ff" stroke="#0000ff" stroke-width="0.8"/>
<path d="M419.74,64.50L425.14,64.50L422.44,69.09Z" fill="#0000ff" stroke="#0000ff" stroke-width="0.8"/>
<path d="M442.71,82.13L448.11,82.13L445.41,86.72Z" fill="#0000ff" stroke="#0000ff" stroke-width="0.8"/>
<path d="M465.69,90.73L471.09,90.73L468.39,95.32Z" fill="#0000ff" stroke="#0000ff" stroke-width="0.8"/>
<path d="M488.66,94.36L494.06,94.36L491.36,98.95Z" fill="#0000ff" stroke="#0000ff" stroke-width="0.8"/>
<path d="M511.63,95.03L517.03,95.03L514.33,99.62Z" fill="#0000ff" stroke="#0000ff" stroke-width="0.8"/>
<path d="M534.60,95.03L540.00,95.03L537.30,99.62Z" fill="#0000ff" stroke="#0000ff" stroke-width="0.8"/>
<polyline points="376.50,38.42 399.47,50.88 422.44,69.50 445.41,89.67 468.39,105.98 491.36,113.80 514.33,117.44 537.30,119.31" fill="none" stroke="#ff0000" stroke-width="1.85" stroke-linejoin="round"/>
<rect x="374.40" y="36.32" width="4.20" height="4.20" fill="#ff0000"/>
<rect x="397.37" y="48.78" width="4.20" height="4.20" fill="#ff0000"/>
<rect x="420.34" y="67.40" width="4.20" height="4.20" fill="#ff0000"/>
<rect x="443.31" y="87.57" width="4.20" height="4.20" fill="#ff0000"/>
<rect x="466.29" y="103.88" width="4.20" height="4.20" fill="#ff0000"/>
<rect x="489.26" y="111.70" width="4.20" height="4.20" fill="#ff0000"/>
<rect x="512.23" y="115.34" width="4.20" height="4.20" fill="#ff0000"/>
<rect x="535.20" y="117.21" width="4.20" height="4.20" fill="#ff0000"/>
<rect x="376.50" y="25.30" width="160.80" height="110.60" fill="none" stroke="#a3a3a3" stroke-width="1"/>
<line x1="399.47" y1="135.90" x2="399.47" y2="134.30" stroke="#a3a3a3" stroke-width="0.8"/>
<line x1="399.47" y1="25.30" x2="399.47" y2="26.90" stroke="#a3a3a3" stroke-width="0.8"/>
<line x1="445.41" y1="135.90" x2="445.41" y2="134.30" stroke="#a3a3a3" stroke-width="0.8"/>
<line x1="445.41" y1="25.30" x2="445.41" y2="26.90" stroke="#a3a3a3" stroke-width="0.8"/>
<line x1="491.36" y1="135.90" x2="491.36" y2="134.30" stroke="#a3a3a3" stroke-width="0.8"/>
<line x1="491.36" y1="25.30" x2="491.36" y2="26.90" stroke="#a3a3a3" stroke-width="0.8"/>
<line x1="376.50" y1="113.78" x2="378.10" y2="113.78" stroke="#a3a3a3" stroke-width="0.8"/>
<line x1="537.30" y1="113.78" x2="535.70" y2="113.78" stroke="#a3a3a3" stroke-width="0.8"/>
<line x1="376.50" y1="91.66" x2="378.10" y2="91.66" stroke="#a3a3a3" stroke-width="0.8"/>
<line x1="537.30" y1="91.66" x2="535.70" y2="91.66" stroke="#a3a3a3" stroke-width="0.8"/>
<line x1="376.50" y1="69.54" x2="378.10" y2="69.54" stroke="#a3a3a3" stroke-width="0.8"/>
<line x1="537.30" y1="69.54" x2="535.70" y2="69.54" stroke="#a3a3a3" stroke-width="0.8"/>
<line x1="376.50" y1="47.42" x2="378.10" y2="47.42" stroke="#a3a3a3" stroke-width="0.8"/>
<line x1="537.30" y1="47.42" x2="535.70" y2="47.42" stroke="#a3a3a3" stroke-width="0.8"/>
<line x1="57.43" y1="143.50" x2="57.43" y2="254.10" stroke="#e8e8e8" stroke-width="0.6"/>
<line x1="103.29" y1="143.50" x2="103.29" y2="254.10" stroke="#e8e8e8" stroke-width="0.6"/>
<line x1="149.14" y1="143.50" x2="149.14" y2="254.10" stroke="#e8e8e8" stroke-width="0.6"/>
<line x1="34.50" y1="231.98" x2="195.00" y2="231.98" stroke="#e8e8e8" stroke-width="0.6"/>
<line x1="34.50" y1="209.86" x2="195.00" y2="209.86" stroke="#e8e8e8" stroke-width="0.6"/>
<line x1="34.50" y1="187.74" x2="195.00" y2="187.74" stroke="#e8e8e8" stroke-width="0.6"/>
<line x1="34.50" y1="165.62" x2="195.00" y2="165.62" stroke="#e8e8e8" stroke-width="0.6"/>
<text class="b" transform="translate(115.00,155.90) scale(0.9,1)" font-size="10.0" fill="#1c1c1c">factory1</text>
<text class="b" transform="translate(150.90,155.90) scale(0.9,1)" font-size="10.0" fill="#1c1c1c"><tspan font-style="italic">p</tspan> = 0.2</text>
<polyline points="34.50,150.10 57.43,156.38 80.36,173.57 103.29,200.02 126.21,221.18 149.14,234.29 172.07,239.47 195.00,241.68" fill="none" stroke="#ff00ff" stroke-width="0.62" stroke-linejoin="round"/>
<circle cx="34.50" cy="150.10" r="1.95" fill="none" stroke="#ff00ff" stroke-width="0.95"/>
<circle cx="57.43" cy="156.38" r="1.95" fill="none" stroke="#ff00ff" stroke-width="0.95"/>
<circle cx="80.36" cy="173.57" r="1.95" fill="none" stroke="#ff00ff" stroke-width="0.95"/>
<circle cx="103.29" cy="200.02" r="1.95" fill="none" stroke="#ff00ff" stroke-width="0.95"/>
<circle cx="126.21" cy="221.18" r="1.95" fill="none" stroke="#ff00ff" stroke-width="0.95"/>
<circle cx="149.14" cy="234.29" r="1.95" fill="none" stroke="#ff00ff" stroke-width="0.95"/>
<circle cx="172.07" cy="239.47" r="1.95" fill="none" stroke="#ff00ff" stroke-width="0.95"/>
<circle cx="195.00" cy="241.68" r="1.95" fill="none" stroke="#ff00ff" stroke-width="0.95"/>
<polyline points="34.50,170.05 57.43,182.17 80.36,204.21 103.29,222.94 126.21,232.86 149.14,232.86 172.07,236.61 195.00,236.61" fill="none" stroke="#00ffff" stroke-width="0.62" stroke-linejoin="round"/>
<circle cx="34.50" cy="170.05" r="1.95" fill="none" stroke="#00ffff" stroke-width="0.95"/>
<circle cx="57.43" cy="182.17" r="1.95" fill="none" stroke="#00ffff" stroke-width="0.95"/>
<circle cx="80.36" cy="204.21" r="1.95" fill="none" stroke="#00ffff" stroke-width="0.95"/>
<circle cx="103.29" cy="222.94" r="1.95" fill="none" stroke="#00ffff" stroke-width="0.95"/>
<circle cx="126.21" cy="232.86" r="1.95" fill="none" stroke="#00ffff" stroke-width="0.95"/>
<circle cx="149.14" cy="232.86" r="1.95" fill="none" stroke="#00ffff" stroke-width="0.95"/>
<circle cx="172.07" cy="236.61" r="1.95" fill="none" stroke="#00ffff" stroke-width="0.95"/>
<circle cx="195.00" cy="236.61" r="1.95" fill="none" stroke="#00ffff" stroke-width="0.95"/>
<polyline points="34.50,144.15 57.43,146.58 80.36,161.56 103.29,188.45 126.21,214.68 149.14,229.34 172.07,236.61 195.00,239.80" fill="none" stroke="#000000" stroke-width="0.55" stroke-linejoin="round"/>
<circle cx="34.50" cy="144.15" r="1.95" fill="none" stroke="#000000" stroke-width="0.95"/>
<circle cx="57.43" cy="146.58" r="1.95" fill="none" stroke="#000000" stroke-width="0.95"/>
<circle cx="80.36" cy="161.56" r="1.95" fill="none" stroke="#000000" stroke-width="0.95"/>
<circle cx="103.29" cy="188.45" r="1.95" fill="none" stroke="#000000" stroke-width="0.95"/>
<circle cx="126.21" cy="214.68" r="1.95" fill="none" stroke="#000000" stroke-width="0.95"/>
<circle cx="149.14" cy="229.34" r="1.95" fill="none" stroke="#000000" stroke-width="0.95"/>
<circle cx="172.07" cy="236.61" r="1.95" fill="none" stroke="#000000" stroke-width="0.95"/>
<circle cx="195.00" cy="239.80" r="1.95" fill="none" stroke="#000000" stroke-width="0.95"/>
<polyline points="34.50,146.24 57.43,151.20 80.36,174.46 103.29,210.38 126.21,229.89 149.14,237.60 172.07,240.58 195.00,241.68" fill="none" stroke="#00ff00" stroke-width="0.62" stroke-linejoin="round"/>
<path d="M32.40,144.67L36.60,144.67L34.50,148.24Z" fill="none" stroke="#00ff00" stroke-width="0.9"/>
<path d="M55.33,149.63L59.53,149.63L57.43,153.20Z" fill="none" stroke="#00ff00" stroke-width="0.9"/>
<path d="M78.26,172.88L82.46,172.88L80.36,176.45Z" fill="none" stroke="#00ff00" stroke-width="0.9"/>
<path d="M101.19,208.81L105.39,208.81L103.29,212.38Z" fill="none" stroke="#00ff00" stroke-width="0.9"/>
<path d="M124.11,228.31L128.31,228.31L126.21,231.88Z" fill="none" stroke="#00ff00" stroke-width="0.9"/>
<path d="M147.04,236.03L151.24,236.03L149.14,239.60Z" fill="none" stroke="#00ff00" stroke-width="0.9"/>
<path d="M169.97,239.00L174.17,239.00L172.07,242.57Z" fill="none" stroke="#00ff00" stroke-width="0.9"/>
<path d="M192.90,240.10L197.10,240.10L195.00,243.67Z" fill="none" stroke="#00ff00" stroke-width="0.9"/>
<polyline points="34.50,172.25 57.43,182.17 80.36,202.01 103.29,221.84 126.21,233.96 149.14,242.78 172.07,243.88 195.00,243.88" fill="none" stroke="#0000ff" stroke-width="0.62" stroke-linejoin="round"/>
<circle cx="34.50" cy="172.25" r="1.7" fill="#0000ff"/>
<circle cx="57.43" cy="182.17" r="1.7" fill="#0000ff"/>
<circle cx="80.36" cy="202.01" r="1.7" fill="#0000ff"/>
<circle cx="103.29" cy="221.84" r="1.7" fill="#0000ff"/>
<circle cx="126.21" cy="233.96" r="1.7" fill="#0000ff"/>
<circle cx="149.14" cy="242.78" r="1.7" fill="#0000ff"/>
<circle cx="172.07" cy="243.88" r="1.7" fill="#0000ff"/>
<circle cx="195.00" cy="243.88" r="1.7" fill="#0000ff"/>
<polyline points="34.50,165.64 57.43,178.20 80.36,199.03 103.29,215.89 126.21,229.89 149.14,237.27 172.07,239.47 195.00,240.58" fill="none" stroke="#000000" stroke-width="0.55" stroke-linejoin="round"/>
<path d="M32.40,164.06L36.60,164.06L34.50,167.63Z" fill="none" stroke="#000000" stroke-width="0.9"/>
<path d="M55.33,176.63L59.53,176.63L57.43,180.20Z" fill="none" stroke="#000000" stroke-width="0.9"/>
<path d="M78.26,197.46L82.46,197.46L80.36,201.03Z" fill="none" stroke="#000000" stroke-width="0.9"/>
<path d="M101.19,214.32L105.39,214.32L103.29,217.89Z" fill="none" stroke="#000000" stroke-width="0.9"/>
<path d="M124.11,228.31L128.31,228.31L126.21,231.88Z" fill="none" stroke="#000000" stroke-width="0.9"/>
<path d="M147.04,235.69L151.24,235.69L149.14,239.26Z" fill="none" stroke="#000000" stroke-width="0.9"/>
<path d="M169.97,237.90L174.17,237.90L172.07,241.47Z" fill="none" stroke="#000000" stroke-width="0.9"/>
<path d="M192.90,239.00L197.10,239.00L195.00,242.57Z" fill="none" stroke="#000000" stroke-width="0.9"/>
<polyline points="34.50,170.05 57.43,183.27 80.36,204.65 103.29,223.50 126.21,235.07 149.14,240.58 172.07,242.78 195.00,243.88" fill="none" stroke="#00ffff" stroke-width="0.62" stroke-linejoin="round"/>
<path d="M32.40,168.47L36.60,168.47L34.50,172.04Z" fill="none" stroke="#00ffff" stroke-width="0.9"/>
<path d="M55.33,181.70L59.53,181.70L57.43,185.27Z" fill="none" stroke="#00ffff" stroke-width="0.9"/>
<path d="M78.26,203.08L82.46,203.08L80.36,206.65Z" fill="none" stroke="#00ffff" stroke-width="0.9"/>
<path d="M101.19,221.92L105.39,221.92L103.29,225.49Z" fill="none" stroke="#00ffff" stroke-width="0.9"/>
<path d="M124.11,233.49L128.31,233.49L126.21,237.06Z" fill="none" stroke="#00ffff" stroke-width="0.9"/>
<path d="M147.04,239.00L151.24,239.00L149.14,242.57Z" fill="none" stroke="#00ffff" stroke-width="0.9"/>
<path d="M169.97,241.21L174.17,241.21L172.07,244.78Z" fill="none" stroke="#00ffff" stroke-width="0.9"/>
<path d="M192.90,242.31L197.10,242.31L195.00,245.88Z" fill="none" stroke="#00ffff" stroke-width="0.9"/>
<polyline points="34.50,164.21 57.43,175.56 80.36,196.06 103.29,220.19 126.21,236.39 149.14,242.78 172.07,244.98 195.00,246.09" fill="none" stroke="#ff00ff" stroke-width="0.62" stroke-linejoin="round"/>
<circle cx="34.50" cy="164.21" r="1.7" fill="#ff00ff"/>
<circle cx="57.43" cy="175.56" r="1.7" fill="#ff00ff"/>
<circle cx="80.36" cy="196.06" r="1.7" fill="#ff00ff"/>
<circle cx="103.29" cy="220.19" r="1.7" fill="#ff00ff"/>
<circle cx="126.21" cy="236.39" r="1.7" fill="#ff00ff"/>
<circle cx="149.14" cy="242.78" r="1.7" fill="#ff00ff"/>
<circle cx="172.07" cy="244.98" r="1.7" fill="#ff00ff"/>
<circle cx="195.00" cy="246.09" r="1.7" fill="#ff00ff"/>
<polyline points="34.50,173.35 57.43,184.37 80.36,203.11 103.29,220.19 126.21,230.66 149.14,237.60 172.07,240.25 195.00,241.79" fill="none" stroke="#00ff00" stroke-width="0.62" stroke-linejoin="round"/>
<circle cx="34.50" cy="173.35" r="1.7" fill="#00ff00"/>
<circle cx="57.43" cy="184.37" r="1.7" fill="#00ff00"/>
<circle cx="80.36" cy="203.11" r="1.7" fill="#00ff00"/>
<circle cx="103.29" cy="220.19" r="1.7" fill="#00ff00"/>
<circle cx="126.21" cy="230.66" r="1.7" fill="#00ff00"/>
<circle cx="149.14" cy="237.60" r="1.7" fill="#00ff00"/>
<circle cx="172.07" cy="240.25" r="1.7" fill="#00ff00"/>
<circle cx="195.00" cy="241.79" r="1.7" fill="#00ff00"/>
<polyline points="34.50,179.97 57.43,214.35 80.36,233.85 103.29,241.57 126.21,246.09 149.14,243.77 172.07,244.43 195.00,244.43" fill="none" stroke="#0000ff" stroke-width="1.85" stroke-linejoin="round"/>
<path d="M31.80,177.94L37.20,177.94L34.50,182.53Z" fill="#0000ff" stroke="#0000ff" stroke-width="0.8"/>
<path d="M54.73,212.32L60.13,212.32L57.43,216.91Z" fill="#0000ff" stroke="#0000ff" stroke-width="0.8"/>
<path d="M77.66,231.83L83.06,231.83L80.36,236.42Z" fill="#0000ff" stroke="#0000ff" stroke-width="0.8"/>
<path d="M100.59,239.54L105.99,239.54L103.29,244.13Z" fill="#0000ff" stroke="#0000ff" stroke-width="0.8"/>
<path d="M123.51,244.06L128.91,244.06L126.21,248.65Z" fill="#0000ff" stroke="#0000ff" stroke-width="0.8"/>
<path d="M146.44,241.75L151.84,241.75L149.14,246.34Z" fill="#0000ff" stroke="#0000ff" stroke-width="0.8"/>
<path d="M169.37,242.41L174.77,242.41L172.07,247.00Z" fill="#0000ff" stroke="#0000ff" stroke-width="0.8"/>
<path d="M192.30,242.41L197.70,242.41L195.00,247.00Z" fill="#0000ff" stroke="#0000ff" stroke-width="0.8"/>
<polyline points="34.50,174.68 57.43,188.01 80.36,215.89 103.29,231.76 126.21,243.77 149.14,246.97 172.07,248.95 195.00,249.17" fill="none" stroke="#ff0000" stroke-width="1.85" stroke-linejoin="round"/>
<rect x="32.40" y="172.58" width="4.20" height="4.20" fill="#ff0000"/>
<rect x="55.33" y="185.91" width="4.20" height="4.20" fill="#ff0000"/>
<rect x="78.26" y="213.79" width="4.20" height="4.20" fill="#ff0000"/>
<rect x="101.19" y="229.66" width="4.20" height="4.20" fill="#ff0000"/>
<rect x="124.11" y="241.67" width="4.20" height="4.20" fill="#ff0000"/>
<rect x="147.04" y="244.87" width="4.20" height="4.20" fill="#ff0000"/>
<rect x="169.97" y="246.85" width="4.20" height="4.20" fill="#ff0000"/>
<rect x="192.90" y="247.07" width="4.20" height="4.20" fill="#ff0000"/>
<rect x="34.50" y="143.50" width="160.50" height="110.60" fill="none" stroke="#a3a3a3" stroke-width="1"/>
<line x1="57.43" y1="254.10" x2="57.43" y2="252.50" stroke="#a3a3a3" stroke-width="0.8"/>
<line x1="57.43" y1="143.50" x2="57.43" y2="145.10" stroke="#a3a3a3" stroke-width="0.8"/>
<line x1="103.29" y1="254.10" x2="103.29" y2="252.50" stroke="#a3a3a3" stroke-width="0.8"/>
<line x1="103.29" y1="143.50" x2="103.29" y2="145.10" stroke="#a3a3a3" stroke-width="0.8"/>
<line x1="149.14" y1="254.10" x2="149.14" y2="252.50" stroke="#a3a3a3" stroke-width="0.8"/>
<line x1="149.14" y1="143.50" x2="149.14" y2="145.10" stroke="#a3a3a3" stroke-width="0.8"/>
<line x1="34.50" y1="231.98" x2="36.10" y2="231.98" stroke="#a3a3a3" stroke-width="0.8"/>
<line x1="195.00" y1="231.98" x2="193.40" y2="231.98" stroke="#a3a3a3" stroke-width="0.8"/>
<line x1="34.50" y1="209.86" x2="36.10" y2="209.86" stroke="#a3a3a3" stroke-width="0.8"/>
<line x1="195.00" y1="209.86" x2="193.40" y2="209.86" stroke="#a3a3a3" stroke-width="0.8"/>
<line x1="34.50" y1="187.74" x2="36.10" y2="187.74" stroke="#a3a3a3" stroke-width="0.8"/>
<line x1="195.00" y1="187.74" x2="193.40" y2="187.74" stroke="#a3a3a3" stroke-width="0.8"/>
<line x1="34.50" y1="165.62" x2="36.10" y2="165.62" stroke="#a3a3a3" stroke-width="0.8"/>
<line x1="195.00" y1="165.62" x2="193.40" y2="165.62" stroke="#a3a3a3" stroke-width="0.8"/>
<text x="31.50" y="256.60" font-size="10" text-anchor="end" fill="#1c1c1c">0</text>
<text x="31.50" y="234.48" font-size="10" text-anchor="end" fill="#1c1c1c">20</text>
<text x="31.50" y="212.36" font-size="10" text-anchor="end" fill="#1c1c1c">40</text>
<text x="31.50" y="190.24" font-size="10" text-anchor="end" fill="#1c1c1c">60</text>
<text x="31.50" y="168.12" font-size="10" text-anchor="end" fill="#1c1c1c">80</text>
<text x="31.50" y="146.00" font-size="10" text-anchor="end" fill="#1c1c1c">100</text>
<text x="0" y="0" transform="translate(12.8,199.30) rotate(-90) scale(1.04,1)" font-size="9.6" text-anchor="middle" fill="#1c1c1c">GPE (%)</text>
<line x1="228.49" y1="143.50" x2="228.49" y2="254.10" stroke="#e8e8e8" stroke-width="0.6"/>
<line x1="274.26" y1="143.50" x2="274.26" y2="254.10" stroke="#e8e8e8" stroke-width="0.6"/>
<line x1="320.03" y1="143.50" x2="320.03" y2="254.10" stroke="#e8e8e8" stroke-width="0.6"/>
<line x1="205.60" y1="231.98" x2="365.80" y2="231.98" stroke="#e8e8e8" stroke-width="0.6"/>
<line x1="205.60" y1="209.86" x2="365.80" y2="209.86" stroke="#e8e8e8" stroke-width="0.6"/>
<line x1="205.60" y1="187.74" x2="365.80" y2="187.74" stroke="#e8e8e8" stroke-width="0.6"/>
<line x1="205.60" y1="165.62" x2="365.80" y2="165.62" stroke="#e8e8e8" stroke-width="0.6"/>
<text class="b" transform="translate(286.10,155.90) scale(0.9,1)" font-size="10.0" fill="#1c1c1c">factory1</text>
<text class="b" transform="translate(322.00,155.90) scale(0.9,1)" font-size="10.0" fill="#1c1c1c"><tspan font-style="italic">p</tspan> = 0.1</text>
<polyline points="205.60,147.79 228.49,154.84 251.37,170.93 274.26,198.48 297.14,219.64 320.03,231.76 342.91,238.37 365.80,242.78" fill="none" stroke="#ff00ff" stroke-width="0.62" stroke-linejoin="round"/>
<circle cx="205.60" cy="147.79" r="1.95" fill="none" stroke="#ff00ff" stroke-width="0.95"/>
<circle cx="228.49" cy="154.84" r="1.95" fill="none" stroke="#ff00ff" stroke-width="0.95"/>
<circle cx="251.37" cy="170.93" r="1.95" fill="none" stroke="#ff00ff" stroke-width="0.95"/>
<circle cx="274.26" cy="198.48" r="1.95" fill="none" stroke="#ff00ff" stroke-width="0.95"/>
<circle cx="297.14" cy="219.64" r="1.95" fill="none" stroke="#ff00ff" stroke-width="0.95"/>
<circle cx="320.03" cy="231.76" r="1.95" fill="none" stroke="#ff00ff" stroke-width="0.95"/>
<circle cx="342.91" cy="238.37" r="1.95" fill="none" stroke="#ff00ff" stroke-width="0.95"/>
<circle cx="365.80" cy="242.78" r="1.95" fill="none" stroke="#ff00ff" stroke-width="0.95"/>
<polyline points="205.60,162.55 228.49,174.46 251.37,195.39 274.26,217.43 297.14,219.64 320.03,226.25 342.91,227.79 365.80,229.34" fill="none" stroke="#00ffff" stroke-width="0.62" stroke-linejoin="round"/>
<circle cx="205.60" cy="162.55" r="1.95" fill="none" stroke="#00ffff" stroke-width="0.95"/>
<circle cx="228.49" cy="174.46" r="1.95" fill="none" stroke="#00ffff" stroke-width="0.95"/>
<circle cx="251.37" cy="195.39" r="1.95" fill="none" stroke="#00ffff" stroke-width="0.95"/>
<circle cx="274.26" cy="217.43" r="1.95" fill="none" stroke="#00ffff" stroke-width="0.95"/>
<circle cx="297.14" cy="219.64" r="1.95" fill="none" stroke="#00ffff" stroke-width="0.95"/>
<circle cx="320.03" cy="226.25" r="1.95" fill="none" stroke="#00ffff" stroke-width="0.95"/>
<circle cx="342.91" cy="227.79" r="1.95" fill="none" stroke="#00ffff" stroke-width="0.95"/>
<circle cx="365.80" cy="229.34" r="1.95" fill="none" stroke="#00ffff" stroke-width="0.95"/>
<polyline points="205.60,143.82 228.49,146.58 251.37,160.24 274.26,188.23 297.14,210.27 320.03,226.25 342.91,234.74 365.80,239.47" fill="none" stroke="#000000" stroke-width="0.55" stroke-linejoin="round"/>
<circle cx="205.60" cy="143.82" r="1.95" fill="none" stroke="#000000" stroke-width="0.95"/>
<circle cx="228.49" cy="146.58" r="1.95" fill="none" stroke="#000000" stroke-width="0.95"/>
<circle cx="251.37" cy="160.24" r="1.95" fill="none" stroke="#000000" stroke-width="0.95"/>
<circle cx="274.26" cy="188.23" r="1.95" fill="none" stroke="#000000" stroke-width="0.95"/>
<circle cx="297.14" cy="210.27" r="1.95" fill="none" stroke="#000000" stroke-width="0.95"/>
<circle cx="320.03" cy="226.25" r="1.95" fill="none" stroke="#000000" stroke-width="0.95"/>
<circle cx="342.91" cy="234.74" r="1.95" fill="none" stroke="#000000" stroke-width="0.95"/>
<circle cx="365.80" cy="239.47" r="1.95" fill="none" stroke="#000000" stroke-width="0.95"/>
<polyline points="205.60,145.91 228.49,150.87 251.37,175.12 274.26,210.16 297.14,227.35 320.03,236.17 342.91,239.47 365.80,240.58" fill="none" stroke="#00ff00" stroke-width="0.62" stroke-linejoin="round"/>
<path d="M203.50,144.34L207.70,144.34L205.60,147.91Z" fill="none" stroke="#00ff00" stroke-width="0.9"/>
<path d="M226.39,149.30L230.59,149.30L228.49,152.87Z" fill="none" stroke="#00ff00" stroke-width="0.9"/>
<path d="M249.27,173.54L253.47,173.54L251.37,177.11Z" fill="none" stroke="#00ff00" stroke-width="0.9"/>
<path d="M272.16,208.59L276.36,208.59L274.26,212.16Z" fill="none" stroke="#00ff00" stroke-width="0.9"/>
<path d="M295.04,225.78L299.24,225.78L297.14,229.35Z" fill="none" stroke="#00ff00" stroke-width="0.9"/>
<path d="M317.93,234.59L322.13,234.59L320.03,238.16Z" fill="none" stroke="#00ff00" stroke-width="0.9"/>
<path d="M340.81,237.90L345.01,237.90L342.91,241.47Z" fill="none" stroke="#00ff00" stroke-width="0.9"/>
<path d="M363.70,239.00L367.90,239.00L365.80,242.57Z" fill="none" stroke="#00ff00" stroke-width="0.9"/>
<polyline points="205.60,165.64 228.49,176.66 251.37,196.50 274.26,218.54 297.14,232.86 320.03,237.27 342.91,238.37 365.80,239.47" fill="none" stroke="#0000ff" stroke-width="0.62" stroke-linejoin="round"/>
<circle cx="205.60" cy="165.64" r="1.7" fill="#0000ff"/>
<circle cx="228.49" cy="176.66" r="1.7" fill="#0000ff"/>
<circle cx="251.37" cy="196.50" r="1.7" fill="#0000ff"/>
<circle cx="274.26" cy="218.54" r="1.7" fill="#0000ff"/>
<circle cx="297.14" cy="232.86" r="1.7" fill="#0000ff"/>
<circle cx="320.03" cy="237.27" r="1.7" fill="#0000ff"/>
<circle cx="342.91" cy="238.37" r="1.7" fill="#0000ff"/>
<circle cx="365.80" cy="239.47" r="1.7" fill="#0000ff"/>
<polyline points="205.60,160.24 228.49,171.92 251.37,194.62 274.26,214.13 297.14,227.35 320.03,236.17 342.91,238.37 365.80,239.47" fill="none" stroke="#000000" stroke-width="0.55" stroke-linejoin="round"/>
<path d="M203.50,158.67L207.70,158.67L205.60,162.24Z" fill="none" stroke="#000000" stroke-width="0.9"/>
<path d="M226.39,170.35L230.59,170.35L228.49,173.92Z" fill="none" stroke="#000000" stroke-width="0.9"/>
<path d="M249.27,193.05L253.47,193.05L251.37,196.62Z" fill="none" stroke="#000000" stroke-width="0.9"/>
<path d="M272.16,212.55L276.36,212.55L274.26,216.12Z" fill="none" stroke="#000000" stroke-width="0.9"/>
<path d="M295.04,225.78L299.24,225.78L297.14,229.35Z" fill="none" stroke="#000000" stroke-width="0.9"/>
<path d="M317.93,234.59L322.13,234.59L320.03,238.16Z" fill="none" stroke="#000000" stroke-width="0.9"/>
<path d="M340.81,236.80L345.01,236.80L342.91,240.37Z" fill="none" stroke="#000000" stroke-width="0.9"/>
<path d="M363.70,237.90L367.90,237.90L365.80,241.47Z" fill="none" stroke="#000000" stroke-width="0.9"/>
<polyline points="205.60,163.44 228.49,176.66 251.37,197.16 274.26,218.10 297.14,231.76 320.03,238.37 342.91,241.68 365.80,243.88" fill="none" stroke="#00ffff" stroke-width="0.62" stroke-linejoin="round"/>
<path d="M203.50,161.86L207.70,161.86L205.60,165.43Z" fill="none" stroke="#00ffff" stroke-width="0.9"/>
<path d="M226.39,175.09L230.59,175.09L228.49,178.66Z" fill="none" stroke="#00ffff" stroke-width="0.9"/>
<path d="M249.27,195.58L253.47,195.58L251.37,199.15Z" fill="none" stroke="#00ffff" stroke-width="0.9"/>
<path d="M272.16,216.52L276.36,216.52L274.26,220.09Z" fill="none" stroke="#00ffff" stroke-width="0.9"/>
<path d="M295.04,230.19L299.24,230.19L297.14,233.75Z" fill="none" stroke="#00ffff" stroke-width="0.9"/>
<path d="M317.93,236.80L322.13,236.80L320.03,240.37Z" fill="none" stroke="#00ffff" stroke-width="0.9"/>
<path d="M340.81,240.10L345.01,240.10L342.91,243.67Z" fill="none" stroke="#00ffff" stroke-width="0.9"/>
<path d="M363.70,242.31L367.90,242.31L365.80,245.88Z" fill="none" stroke="#00ffff" stroke-width="0.9"/>
<polyline points="205.60,159.03 228.49,169.28 251.37,193.30 274.26,216.33 297.14,232.97 320.03,239.47 342.91,243.88 365.80,247.19" fill="none" stroke="#ff00ff" stroke-width="0.62" stroke-linejoin="round"/>
<circle cx="205.60" cy="159.03" r="1.7" fill="#ff00ff"/>
<circle cx="228.49" cy="169.28" r="1.7" fill="#ff00ff"/>
<circle cx="251.37" cy="193.30" r="1.7" fill="#ff00ff"/>
<circle cx="274.26" cy="216.33" r="1.7" fill="#ff00ff"/>
<circle cx="297.14" cy="232.97" r="1.7" fill="#ff00ff"/>
<circle cx="320.03" cy="239.47" r="1.7" fill="#ff00ff"/>
<circle cx="342.91" cy="243.88" r="1.7" fill="#ff00ff"/>
<circle cx="365.80" cy="247.19" r="1.7" fill="#ff00ff"/>
<polyline points="205.60,164.54 228.49,179.97 251.37,199.91 274.26,217.43 297.14,228.45 320.03,236.17 342.91,239.25 365.80,239.69" fill="none" stroke="#00ff00" stroke-width="0.62" stroke-linejoin="round"/>
<circle cx="205.60" cy="164.54" r="1.7" fill="#00ff00"/>
<circle cx="228.49" cy="179.97" r="1.7" fill="#00ff00"/>
<circle cx="251.37" cy="199.91" r="1.7" fill="#00ff00"/>
<circle cx="274.26" cy="217.43" r="1.7" fill="#00ff00"/>
<circle cx="297.14" cy="228.45" r="1.7" fill="#00ff00"/>
<circle cx="320.03" cy="236.17" r="1.7" fill="#00ff00"/>
<circle cx="342.91" cy="239.25" r="1.7" fill="#00ff00"/>
<circle cx="365.80" cy="239.69" r="1.7" fill="#00ff00"/>
<polyline points="205.60,170.49 228.49,199.80 251.37,219.75 274.26,231.43 297.14,235.18 320.03,236.17 342.91,236.61 365.80,235.40" fill="none" stroke="#0000ff" stroke-width="1.85" stroke-linejoin="round"/>
<path d="M202.90,168.46L208.30,168.46L205.60,173.05Z" fill="#0000ff" stroke="#0000ff" stroke-width="0.8"/>
<path d="M225.79,197.78L231.19,197.78L228.49,202.37Z" fill="#0000ff" stroke="#0000ff" stroke-width="0.8"/>
<path d="M248.67,217.72L254.07,217.72L251.37,222.31Z" fill="#0000ff" stroke="#0000ff" stroke-width="0.8"/>
<path d="M271.56,229.40L276.96,229.40L274.26,233.99Z" fill="#0000ff" stroke="#0000ff" stroke-width="0.8"/>
<path d="M294.44,233.15L299.84,233.15L297.14,237.74Z" fill="#0000ff" stroke="#0000ff" stroke-width="0.8"/>
<path d="M317.33,234.14L322.73,234.14L320.03,238.73Z" fill="#0000ff" stroke="#0000ff" stroke-width="0.8"/>
<path d="M340.21,234.58L345.61,234.58L342.91,239.17Z" fill="#0000ff" stroke="#0000ff" stroke-width="0.8"/>
<path d="M363.10,233.37L368.50,233.37L365.80,237.96Z" fill="#0000ff" stroke="#0000ff" stroke-width="0.8"/>
<polyline points="205.60,167.18 228.49,182.94 251.37,209.94 274.26,227.57 297.14,239.14 320.03,243.00 342.91,245.87 365.80,246.09" fill="none" stroke="#ff0000" stroke-width="1.85" stroke-linejoin="round"/>
<rect x="203.50" y="165.08" width="4.20" height="4.20" fill="#ff0000"/>
<rect x="226.39" y="180.84" width="4.20" height="4.20" fill="#ff0000"/>
<rect x="249.27" y="207.84" width="4.20" height="4.20" fill="#ff0000"/>
<rect x="272.16" y="225.47" width="4.20" height="4.20" fill="#ff0000"/>
<rect x="295.04" y="237.04" width="4.20" height="4.20" fill="#ff0000"/>
<rect x="317.93" y="240.90" width="4.20" height="4.20" fill="#ff0000"/>
<rect x="340.81" y="243.77" width="4.20" height="4.20" fill="#ff0000"/>
<rect x="363.70" y="243.99" width="4.20" height="4.20" fill="#ff0000"/>
<rect x="205.60" y="143.50" width="160.20" height="110.60" fill="none" stroke="#a3a3a3" stroke-width="1"/>
<line x1="228.49" y1="254.10" x2="228.49" y2="252.50" stroke="#a3a3a3" stroke-width="0.8"/>
<line x1="228.49" y1="143.50" x2="228.49" y2="145.10" stroke="#a3a3a3" stroke-width="0.8"/>
<line x1="274.26" y1="254.10" x2="274.26" y2="252.50" stroke="#a3a3a3" stroke-width="0.8"/>
<line x1="274.26" y1="143.50" x2="274.26" y2="145.10" stroke="#a3a3a3" stroke-width="0.8"/>
<line x1="320.03" y1="254.10" x2="320.03" y2="252.50" stroke="#a3a3a3" stroke-width="0.8"/>
<line x1="320.03" y1="143.50" x2="320.03" y2="145.10" stroke="#a3a3a3" stroke-width="0.8"/>
<line x1="205.60" y1="231.98" x2="207.20" y2="231.98" stroke="#a3a3a3" stroke-width="0.8"/>
<line x1="365.80" y1="231.98" x2="364.20" y2="231.98" stroke="#a3a3a3" stroke-width="0.8"/>
<line x1="205.60" y1="209.86" x2="207.20" y2="209.86" stroke="#a3a3a3" stroke-width="0.8"/>
<line x1="365.80" y1="209.86" x2="364.20" y2="209.86" stroke="#a3a3a3" stroke-width="0.8"/>
<line x1="205.60" y1="187.74" x2="207.20" y2="187.74" stroke="#a3a3a3" stroke-width="0.8"/>
<line x1="365.80" y1="187.74" x2="364.20" y2="187.74" stroke="#a3a3a3" stroke-width="0.8"/>
<line x1="205.60" y1="165.62" x2="207.20" y2="165.62" stroke="#a3a3a3" stroke-width="0.8"/>
<line x1="365.80" y1="165.62" x2="364.20" y2="165.62" stroke="#a3a3a3" stroke-width="0.8"/>
<line x1="399.47" y1="143.50" x2="399.47" y2="254.10" stroke="#e8e8e8" stroke-width="0.6"/>
<line x1="445.41" y1="143.50" x2="445.41" y2="254.10" stroke="#e8e8e8" stroke-width="0.6"/>
<line x1="491.36" y1="143.50" x2="491.36" y2="254.10" stroke="#e8e8e8" stroke-width="0.6"/>
<line x1="376.50" y1="231.98" x2="537.30" y2="231.98" stroke="#e8e8e8" stroke-width="0.6"/>
<line x1="376.50" y1="209.86" x2="537.30" y2="209.86" stroke="#e8e8e8" stroke-width="0.6"/>
<line x1="376.50" y1="187.74" x2="537.30" y2="187.74" stroke="#e8e8e8" stroke-width="0.6"/>
<line x1="376.50" y1="165.62" x2="537.30" y2="165.62" stroke="#e8e8e8" stroke-width="0.6"/>
<text class="b" transform="translate(457.00,155.90) scale(0.9,1)" font-size="10.0" fill="#1c1c1c">factory1</text>
<text class="b" transform="translate(492.90,155.90) scale(0.9,1)" font-size="10.0" fill="#1c1c1c"><tspan font-style="italic">p</tspan> = 0.05</text>
<polyline points="376.50,146.24 399.47,153.30 422.44,169.94 445.41,194.29 468.39,227.90 491.36,233.96 514.33,238.37 537.30,240.58" fill="none" stroke="#ff00ff" stroke-width="0.62" stroke-linejoin="round"/>
<circle cx="376.50" cy="146.24" r="1.95" fill="none" stroke="#ff00ff" stroke-width="0.95"/>
<circle cx="399.47" cy="153.30" r="1.95" fill="none" stroke="#ff00ff" stroke-width="0.95"/>
<circle cx="422.44" cy="169.94" r="1.95" fill="none" stroke="#ff00ff" stroke-width="0.95"/>
<circle cx="445.41" cy="194.29" r="1.95" fill="none" stroke="#ff00ff" stroke-width="0.95"/>
<circle cx="468.39" cy="227.90" r="1.95" fill="none" stroke="#ff00ff" stroke-width="0.95"/>
<circle cx="491.36" cy="233.96" r="1.95" fill="none" stroke="#ff00ff" stroke-width="0.95"/>
<circle cx="514.33" cy="238.37" r="1.95" fill="none" stroke="#ff00ff" stroke-width="0.95"/>
<circle cx="537.30" cy="240.58" r="1.95" fill="none" stroke="#ff00ff" stroke-width="0.95"/>
<polyline points="376.50,157.15 399.47,165.64 422.44,181.29 445.41,192.53 468.39,201.79 491.36,206.19 514.33,208.84 537.30,210.05" fill="none" stroke="#00ffff" stroke-width="0.62" stroke-linejoin="round"/>
<circle cx="376.50" cy="157.15" r="1.95" fill="none" stroke="#00ffff" stroke-width="0.95"/>
<circle cx="399.47" cy="165.64" r="1.95" fill="none" stroke="#00ffff" stroke-width="0.95"/>
<circle cx="422.44" cy="181.29" r="1.95" fill="none" stroke="#00ffff" stroke-width="0.95"/>
<circle cx="445.41" cy="192.53" r="1.95" fill="none" stroke="#00ffff" stroke-width="0.95"/>
<circle cx="468.39" cy="201.79" r="1.95" fill="none" stroke="#00ffff" stroke-width="0.95"/>
<circle cx="491.36" cy="206.19" r="1.95" fill="none" stroke="#00ffff" stroke-width="0.95"/>
<circle cx="514.33" cy="208.84" r="1.95" fill="none" stroke="#00ffff" stroke-width="0.95"/>
<circle cx="537.30" cy="210.05" r="1.95" fill="none" stroke="#00ffff" stroke-width="0.95"/>
<polyline points="376.50,143.60 399.47,146.58 422.44,160.24 445.41,184.81 468.39,208.07 491.36,221.84 514.33,229.56 537.30,232.64" fill="none" stroke="#000000" stroke-width="0.55" stroke-linejoin="round"/>
<circle cx="376.50" cy="143.60" r="1.95" fill="none" stroke="#000000" stroke-width="0.95"/>
<circle cx="399.47" cy="146.58" r="1.95" fill="none" stroke="#000000" stroke-width="0.95"/>
<circle cx="422.44" cy="160.24" r="1.95" fill="none" stroke="#000000" stroke-width="0.95"/>
<circle cx="445.41" cy="184.81" r="1.95" fill="none" stroke="#000000" stroke-width="0.95"/>
<circle cx="468.39" cy="208.07" r="1.95" fill="none" stroke="#000000" stroke-width="0.95"/>
<circle cx="491.36" cy="221.84" r="1.95" fill="none" stroke="#000000" stroke-width="0.95"/>
<circle cx="514.33" cy="229.56" r="1.95" fill="none" stroke="#000000" stroke-width="0.95"/>
<circle cx="537.30" cy="232.64" r="1.95" fill="none" stroke="#000000" stroke-width="0.95"/>
<polyline points="376.50,143.60 399.47,148.56 422.44,172.47 445.41,203.44 468.39,221.40 491.36,229.12 514.33,233.85 537.30,235.29" fill="none" stroke="#00ff00" stroke-width="0.62" stroke-linejoin="round"/>
<path d="M374.40,142.03L378.60,142.03L376.50,145.59Z" fill="none" stroke="#00ff00" stroke-width="0.9"/>
<path d="M397.37,146.98L401.57,146.98L399.47,150.55Z" fill="none" stroke="#00ff00" stroke-width="0.9"/>
<path d="M420.34,170.90L424.54,170.90L422.44,174.47Z" fill="none" stroke="#00ff00" stroke-width="0.9"/>
<path d="M443.31,201.86L447.51,201.86L445.41,205.43Z" fill="none" stroke="#00ff00" stroke-width="0.9"/>
<path d="M466.29,219.83L470.49,219.83L468.39,223.40Z" fill="none" stroke="#00ff00" stroke-width="0.9"/>
<path d="M489.26,227.54L493.46,227.54L491.36,231.11Z" fill="none" stroke="#00ff00" stroke-width="0.9"/>
<path d="M512.23,232.28L516.43,232.28L514.33,235.85Z" fill="none" stroke="#00ff00" stroke-width="0.9"/>
<path d="M535.20,233.71L539.40,233.71L537.30,237.28Z" fill="none" stroke="#00ff00" stroke-width="0.9"/>
<polyline points="376.50,156.82 399.47,167.84 422.44,189.88 445.41,211.92 468.39,225.15 491.36,231.76 514.33,235.07 537.30,237.27" fill="none" stroke="#0000ff" stroke-width="0.62" stroke-linejoin="round"/>
<circle cx="376.50" cy="156.82" r="1.7" fill="#0000ff"/>
<circle cx="399.47" cy="167.84" r="1.7" fill="#0000ff"/>
<circle cx="422.44" cy="189.88" r="1.7" fill="#0000ff"/>
<circle cx="445.41" cy="211.92" r="1.7" fill="#0000ff"/>
<circle cx="468.39" cy="225.15" r="1.7" fill="#0000ff"/>
<circle cx="491.36" cy="231.76" r="1.7" fill="#0000ff"/>
<circle cx="514.33" cy="235.07" r="1.7" fill="#0000ff"/>
<circle cx="537.30" cy="237.27" r="1.7" fill="#0000ff"/>
<polyline points="376.50,155.72 399.47,168.06 422.44,187.79 445.41,208.07 468.39,221.62 491.36,228.45 514.33,232.86 537.30,234.51" fill="none" stroke="#000000" stroke-width="0.55" stroke-linejoin="round"/>
<path d="M374.40,154.15L378.60,154.15L376.50,157.72Z" fill="none" stroke="#000000" stroke-width="0.9"/>
<path d="M397.37,166.49L401.57,166.49L399.47,170.06Z" fill="none" stroke="#000000" stroke-width="0.9"/>
<path d="M420.34,186.22L424.54,186.22L422.44,189.79Z" fill="none" stroke="#000000" stroke-width="0.9"/>
<path d="M443.31,206.49L447.51,206.49L445.41,210.06Z" fill="none" stroke="#000000" stroke-width="0.9"/>
<path d="M466.29,220.05L470.49,220.05L468.39,223.62Z" fill="none" stroke="#000000" stroke-width="0.9"/>
<path d="M489.26,226.88L493.46,226.88L491.36,230.45Z" fill="none" stroke="#000000" stroke-width="0.9"/>
<path d="M512.23,231.29L516.43,231.29L514.33,234.86Z" fill="none" stroke="#000000" stroke-width="0.9"/>
<path d="M535.20,232.94L539.40,232.94L537.30,236.51Z" fill="none" stroke="#000000" stroke-width="0.9"/>
<polyline points="376.50,157.15 399.47,171.15 422.44,190.88 445.41,215.23 468.39,226.25 491.36,237.27 514.33,241.57 537.30,242.78" fill="none" stroke="#00ffff" stroke-width="0.62" stroke-linejoin="round"/>
<path d="M374.40,155.58L378.60,155.58L376.50,159.15Z" fill="none" stroke="#00ffff" stroke-width="0.9"/>
<path d="M397.37,169.58L401.57,169.58L399.47,173.15Z" fill="none" stroke="#00ffff" stroke-width="0.9"/>
<path d="M420.34,189.30L424.54,189.30L422.44,192.87Z" fill="none" stroke="#00ffff" stroke-width="0.9"/>
<path d="M443.31,213.66L447.51,213.66L445.41,217.22Z" fill="none" stroke="#00ffff" stroke-width="0.9"/>
<path d="M466.29,224.68L470.49,224.68L468.39,228.25Z" fill="none" stroke="#00ffff" stroke-width="0.9"/>
<path d="M489.26,235.69L493.46,235.69L491.36,239.26Z" fill="none" stroke="#00ffff" stroke-width="0.9"/>
<path d="M512.23,239.99L516.43,239.99L514.33,243.56Z" fill="none" stroke="#00ffff" stroke-width="0.9"/>
<path d="M535.20,241.21L539.40,241.21L537.30,244.78Z" fill="none" stroke="#00ffff" stroke-width="0.9"/>
<polyline points="376.50,153.74 399.47,164.98 422.44,187.68 445.41,214.13 468.39,226.80 491.36,236.17 514.33,240.58 537.30,241.68" fill="none" stroke="#ff00ff" stroke-width="0.62" stroke-linejoin="round"/>
<circle cx="376.50" cy="153.74" r="1.7" fill="#ff00ff"/>
<circle cx="399.47" cy="164.98" r="1.7" fill="#ff00ff"/>
<circle cx="422.44" cy="187.68" r="1.7" fill="#ff00ff"/>
<circle cx="445.41" cy="214.13" r="1.7" fill="#ff00ff"/>
<circle cx="468.39" cy="226.80" r="1.7" fill="#ff00ff"/>
<circle cx="491.36" cy="236.17" r="1.7" fill="#ff00ff"/>
<circle cx="514.33" cy="240.58" r="1.7" fill="#ff00ff"/>
<circle cx="537.30" cy="241.68" r="1.7" fill="#ff00ff"/>
<polyline points="376.50,156.82 399.47,172.25 422.44,195.28 445.41,215.23 468.39,224.49 491.36,229.56 514.33,233.85 537.30,235.29" fill="none" stroke="#00ff00" stroke-width="0.62" stroke-linejoin="round"/>
<circle cx="376.50" cy="156.82" r="1.7" fill="#00ff00"/>
<circle cx="399.47" cy="172.25" r="1.7" fill="#00ff00"/>
<circle cx="422.44" cy="195.28" r="1.7" fill="#00ff00"/>
<circle cx="445.41" cy="215.23" r="1.7" fill="#00ff00"/>
<circle cx="468.39" cy="224.49" r="1.7" fill="#00ff00"/>
<circle cx="491.36" cy="229.56" r="1.7" fill="#00ff00"/>
<circle cx="514.33" cy="233.85" r="1.7" fill="#00ff00"/>
<circle cx="537.30" cy="235.29" r="1.7" fill="#00ff00"/>
<polyline points="376.50,155.61 399.47,183.82 422.44,198.70 445.41,212.47 468.39,216.66 491.36,216.22 514.33,216.66 537.30,214.35" fill="none" stroke="#0000ff" stroke-width="1.85" stroke-linejoin="round"/>
<path d="M373.80,153.59L379.20,153.59L376.50,158.18Z" fill="#0000ff" stroke="#0000ff" stroke-width="0.8"/>
<path d="M396.77,181.80L402.17,181.80L399.47,186.39Z" fill="#0000ff" stroke="#0000ff" stroke-width="0.8"/>
<path d="M419.74,196.67L425.14,196.67L422.44,201.26Z" fill="#0000ff" stroke="#0000ff" stroke-width="0.8"/>
<path d="M442.71,210.45L448.11,210.45L445.41,215.04Z" fill="#0000ff" stroke="#0000ff" stroke-width="0.8"/>
<path d="M465.69,214.64L471.09,214.64L468.39,219.23Z" fill="#0000ff" stroke="#0000ff" stroke-width="0.8"/>
<path d="M488.66,214.20L494.06,214.20L491.36,218.79Z" fill="#0000ff" stroke="#0000ff" stroke-width="0.8"/>
<path d="M511.63,214.64L517.03,214.64L514.33,219.23Z" fill="#0000ff" stroke="#0000ff" stroke-width="0.8"/>
<path d="M534.60,212.32L540.00,212.32L537.30,216.91Z" fill="#0000ff" stroke="#0000ff" stroke-width="0.8"/>
<polyline points="376.50,160.24 399.47,177.10 422.44,200.13 445.41,221.29 468.39,229.56 491.36,234.85 514.33,238.04 537.30,238.04" fill="none" stroke="#ff0000" stroke-width="1.85" stroke-linejoin="round"/>
<rect x="374.40" y="158.14" width="4.20" height="4.20" fill="#ff0000"/>
<rect x="397.37" y="175.00" width="4.20" height="4.20" fill="#ff0000"/>
<rect x="420.34" y="198.03" width="4.20" height="4.20" fill="#ff0000"/>
<rect x="443.31" y="219.19" width="4.20" height="4.20" fill="#ff0000"/>
<rect x="466.29" y="227.46" width="4.20" height="4.20" fill="#ff0000"/>
<rect x="489.26" y="232.75" width="4.20" height="4.20" fill="#ff0000"/>
<rect x="512.23" y="235.94" width="4.20" height="4.20" fill="#ff0000"/>
<rect x="535.20" y="235.94" width="4.20" height="4.20" fill="#ff0000"/>
<rect x="376.50" y="143.50" width="160.80" height="110.60" fill="none" stroke="#a3a3a3" stroke-width="1"/>
<line x1="399.47" y1="254.10" x2="399.47" y2="252.50" stroke="#a3a3a3" stroke-width="0.8"/>
<line x1="399.47" y1="143.50" x2="399.47" y2="145.10" stroke="#a3a3a3" stroke-width="0.8"/>
<line x1="445.41" y1="254.10" x2="445.41" y2="252.50" stroke="#a3a3a3" stroke-width="0.8"/>
<line x1="445.41" y1="143.50" x2="445.41" y2="145.10" stroke="#a3a3a3" stroke-width="0.8"/>
<line x1="491.36" y1="254.10" x2="491.36" y2="252.50" stroke="#a3a3a3" stroke-width="0.8"/>
<line x1="491.36" y1="143.50" x2="491.36" y2="145.10" stroke="#a3a3a3" stroke-width="0.8"/>
<line x1="376.50" y1="231.98" x2="378.10" y2="231.98" stroke="#a3a3a3" stroke-width="0.8"/>
<line x1="537.30" y1="231.98" x2="535.70" y2="231.98" stroke="#a3a3a3" stroke-width="0.8"/>
<line x1="376.50" y1="209.86" x2="378.10" y2="209.86" stroke="#a3a3a3" stroke-width="0.8"/>
<line x1="537.30" y1="209.86" x2="535.70" y2="209.86" stroke="#a3a3a3" stroke-width="0.8"/>
<line x1="376.50" y1="187.74" x2="378.10" y2="187.74" stroke="#a3a3a3" stroke-width="0.8"/>
<line x1="537.30" y1="187.74" x2="535.70" y2="187.74" stroke="#a3a3a3" stroke-width="0.8"/>
<line x1="376.50" y1="165.62" x2="378.10" y2="165.62" stroke="#a3a3a3" stroke-width="0.8"/>
<line x1="537.30" y1="165.62" x2="535.70" y2="165.62" stroke="#a3a3a3" stroke-width="0.8"/>
<line x1="57.43" y1="261.80" x2="57.43" y2="372.40" stroke="#e8e8e8" stroke-width="0.6"/>
<line x1="103.29" y1="261.80" x2="103.29" y2="372.40" stroke="#e8e8e8" stroke-width="0.6"/>
<line x1="149.14" y1="261.80" x2="149.14" y2="372.40" stroke="#e8e8e8" stroke-width="0.6"/>
<line x1="34.50" y1="350.28" x2="195.00" y2="350.28" stroke="#e8e8e8" stroke-width="0.6"/>
<line x1="34.50" y1="328.16" x2="195.00" y2="328.16" stroke="#e8e8e8" stroke-width="0.6"/>
<line x1="34.50" y1="306.04" x2="195.00" y2="306.04" stroke="#e8e8e8" stroke-width="0.6"/>
<line x1="34.50" y1="283.92" x2="195.00" y2="283.92" stroke="#e8e8e8" stroke-width="0.6"/>
<text class="b" transform="translate(115.00,274.20) scale(0.9,1)" font-size="10.0" fill="#1c1c1c">volvo</text>
<text class="b" transform="translate(150.90,274.20) scale(0.9,1)" font-size="10.0" fill="#1c1c1c"><tspan font-style="italic">p</tspan> = 0.2</text>
<polyline points="34.50,267.62 57.43,278.64 80.36,301.89 103.29,324.70 126.21,343.55 149.14,353.69 172.07,358.98 195.00,361.18" fill="none" stroke="#ff00ff" stroke-width="0.62" stroke-linejoin="round"/>
<circle cx="34.50" cy="267.62" r="1.95" fill="none" stroke="#ff00ff" stroke-width="0.95"/>
<circle cx="57.43" cy="278.64" r="1.95" fill="none" stroke="#ff00ff" stroke-width="0.95"/>
<circle cx="80.36" cy="301.89" r="1.95" fill="none" stroke="#ff00ff" stroke-width="0.95"/>
<circle cx="103.29" cy="324.70" r="1.95" fill="none" stroke="#ff00ff" stroke-width="0.95"/>
<circle cx="126.21" cy="343.55" r="1.95" fill="none" stroke="#ff00ff" stroke-width="0.95"/>
<circle cx="149.14" cy="353.69" r="1.95" fill="none" stroke="#ff00ff" stroke-width="0.95"/>
<circle cx="172.07" cy="358.98" r="1.95" fill="none" stroke="#ff00ff" stroke-width="0.95"/>
<circle cx="195.00" cy="361.18" r="1.95" fill="none" stroke="#ff00ff" stroke-width="0.95"/>
<polyline points="34.50,302.00 57.43,319.52 80.36,335.83 103.29,344.65 126.21,350.82 149.14,353.47 172.07,354.46 195.00,356.00" fill="none" stroke="#00ffff" stroke-width="0.62" stroke-linejoin="round"/>
<circle cx="34.50" cy="302.00" r="1.95" fill="none" stroke="#00ffff" stroke-width="0.95"/>
<circle cx="57.43" cy="319.52" r="1.95" fill="none" stroke="#00ffff" stroke-width="0.95"/>
<circle cx="80.36" cy="335.83" r="1.95" fill="none" stroke="#00ffff" stroke-width="0.95"/>
<circle cx="103.29" cy="344.65" r="1.95" fill="none" stroke="#00ffff" stroke-width="0.95"/>
<circle cx="126.21" cy="350.82" r="1.95" fill="none" stroke="#00ffff" stroke-width="0.95"/>
<circle cx="149.14" cy="353.47" r="1.95" fill="none" stroke="#00ffff" stroke-width="0.95"/>
<circle cx="172.07" cy="354.46" r="1.95" fill="none" stroke="#00ffff" stroke-width="0.95"/>
<circle cx="195.00" cy="356.00" r="1.95" fill="none" stroke="#00ffff" stroke-width="0.95"/>
<polyline points="34.50,268.61 57.43,282.17 80.36,305.64 103.29,327.35 126.21,343.55 149.14,353.69 172.07,358.31 195.00,360.19" fill="none" stroke="#000000" stroke-width="0.55" stroke-linejoin="round"/>
<circle cx="34.50" cy="268.61" r="1.95" fill="none" stroke="#000000" stroke-width="0.95"/>
<circle cx="57.43" cy="282.17" r="1.95" fill="none" stroke="#000000" stroke-width="0.95"/>
<circle cx="80.36" cy="305.64" r="1.95" fill="none" stroke="#000000" stroke-width="0.95"/>
<circle cx="103.29" cy="327.35" r="1.95" fill="none" stroke="#000000" stroke-width="0.95"/>
<circle cx="126.21" cy="343.55" r="1.95" fill="none" stroke="#000000" stroke-width="0.95"/>
<circle cx="149.14" cy="353.69" r="1.95" fill="none" stroke="#000000" stroke-width="0.95"/>
<circle cx="172.07" cy="358.31" r="1.95" fill="none" stroke="#000000" stroke-width="0.95"/>
<circle cx="195.00" cy="360.19" r="1.95" fill="none" stroke="#000000" stroke-width="0.95"/>
<polyline points="34.50,279.52 57.43,293.08 80.36,318.75 103.29,342.12 126.21,355.23 149.14,358.31 172.07,359.86 195.00,361.18" fill="none" stroke="#00ff00" stroke-width="0.62" stroke-linejoin="round"/>
<path d="M32.40,277.95L36.60,277.95L34.50,281.52Z" fill="none" stroke="#00ff00" stroke-width="0.9"/>
<path d="M55.33,291.50L59.53,291.50L57.43,295.07Z" fill="none" stroke="#00ff00" stroke-width="0.9"/>
<path d="M78.26,317.18L82.46,317.18L80.36,320.75Z" fill="none" stroke="#00ff00" stroke-width="0.9"/>
<path d="M101.19,340.54L105.39,340.54L103.29,344.11Z" fill="none" stroke="#00ff00" stroke-width="0.9"/>
<path d="M124.11,353.65L128.31,353.65L126.21,357.22Z" fill="none" stroke="#00ff00" stroke-width="0.9"/>
<path d="M147.04,356.74L151.24,356.74L149.14,360.31Z" fill="none" stroke="#00ff00" stroke-width="0.9"/>
<path d="M169.97,358.28L174.17,358.28L172.07,361.85Z" fill="none" stroke="#00ff00" stroke-width="0.9"/>
<path d="M192.90,359.61L197.10,359.61L195.00,363.18Z" fill="none" stroke="#00ff00" stroke-width="0.9"/>
<polyline points="34.50,270.82 57.43,284.81 80.36,308.28 103.29,329.99 126.21,347.40 149.14,357.87 172.07,361.18 195.00,362.28" fill="none" stroke="#0000ff" stroke-width="0.62" stroke-linejoin="round"/>
<circle cx="34.50" cy="270.82" r="1.7" fill="#0000ff"/>
<circle cx="57.43" cy="284.81" r="1.7" fill="#0000ff"/>
<circle cx="80.36" cy="308.28" r="1.7" fill="#0000ff"/>
<circle cx="103.29" cy="329.99" r="1.7" fill="#0000ff"/>
<circle cx="126.21" cy="347.40" r="1.7" fill="#0000ff"/>
<circle cx="149.14" cy="357.87" r="1.7" fill="#0000ff"/>
<circle cx="172.07" cy="361.18" r="1.7" fill="#0000ff"/>
<circle cx="195.00" cy="362.28" r="1.7" fill="#0000ff"/>
<polyline points="34.50,292.31 57.43,315.78 80.36,335.61 103.29,347.52 126.21,355.67 149.14,358.98 172.07,360.08 195.00,361.18" fill="none" stroke="#000000" stroke-width="0.55" stroke-linejoin="round"/>
<path d="M32.40,290.73L36.60,290.73L34.50,294.30Z" fill="none" stroke="#000000" stroke-width="0.9"/>
<path d="M55.33,314.20L59.53,314.20L57.43,317.77Z" fill="none" stroke="#000000" stroke-width="0.9"/>
<path d="M78.26,334.04L82.46,334.04L80.36,337.61Z" fill="none" stroke="#000000" stroke-width="0.9"/>
<path d="M101.19,345.94L105.39,345.94L103.29,349.51Z" fill="none" stroke="#000000" stroke-width="0.9"/>
<path d="M124.11,354.10L128.31,354.10L126.21,357.67Z" fill="none" stroke="#000000" stroke-width="0.9"/>
<path d="M147.04,357.40L151.24,357.40L149.14,360.97Z" fill="none" stroke="#000000" stroke-width="0.9"/>
<path d="M169.97,358.50L174.17,358.50L172.07,362.07Z" fill="none" stroke="#000000" stroke-width="0.9"/>
<path d="M192.90,359.61L197.10,359.61L195.00,363.18Z" fill="none" stroke="#000000" stroke-width="0.9"/>
<polyline points="34.50,317.98 57.43,334.62 80.36,348.40 103.29,355.67 126.21,358.98 149.14,361.18 172.07,362.28 195.00,362.83" fill="none" stroke="#00ffff" stroke-width="0.62" stroke-linejoin="round"/>
<path d="M32.40,316.41L36.60,316.41L34.50,319.98Z" fill="none" stroke="#00ffff" stroke-width="0.9"/>
<path d="M55.33,333.05L59.53,333.05L57.43,336.62Z" fill="none" stroke="#00ffff" stroke-width="0.9"/>
<path d="M78.26,346.82L82.46,346.82L80.36,350.39Z" fill="none" stroke="#00ffff" stroke-width="0.9"/>
<path d="M101.19,354.10L105.39,354.10L103.29,357.67Z" fill="none" stroke="#00ffff" stroke-width="0.9"/>
<path d="M124.11,357.40L128.31,357.40L126.21,360.97Z" fill="none" stroke="#00ffff" stroke-width="0.9"/>
<path d="M147.04,359.61L151.24,359.61L149.14,363.18Z" fill="none" stroke="#00ffff" stroke-width="0.9"/>
<path d="M169.97,360.71L174.17,360.71L172.07,364.28Z" fill="none" stroke="#00ffff" stroke-width="0.9"/>
<path d="M192.90,361.26L197.10,361.26L195.00,364.83Z" fill="none" stroke="#00ffff" stroke-width="0.9"/>
<polyline points="34.50,315.23 57.43,331.98 80.36,346.85 103.29,356.88 126.21,361.18 149.14,363.38 172.07,364.49 195.00,365.59" fill="none" stroke="#ff00ff" stroke-width="0.62" stroke-linejoin="round"/>
<circle cx="34.50" cy="315.23" r="1.7" fill="#ff00ff"/>
<circle cx="57.43" cy="331.98" r="1.7" fill="#ff00ff"/>
<circle cx="80.36" cy="346.85" r="1.7" fill="#ff00ff"/>
<circle cx="103.29" cy="356.88" r="1.7" fill="#ff00ff"/>
<circle cx="126.21" cy="361.18" r="1.7" fill="#ff00ff"/>
<circle cx="149.14" cy="363.38" r="1.7" fill="#ff00ff"/>
<circle cx="172.07" cy="364.49" r="1.7" fill="#ff00ff"/>
<circle cx="195.00" cy="365.59" r="1.7" fill="#ff00ff"/>
<polyline points="34.50,330.43 57.43,340.57 80.36,346.52 103.29,351.48 126.21,355.12 149.14,358.31 172.07,359.86 195.00,361.18" fill="none" stroke="#00ff00" stroke-width="0.62" stroke-linejoin="round"/>
<circle cx="34.50" cy="330.43" r="1.7" fill="#00ff00"/>
<circle cx="57.43" cy="340.57" r="1.7" fill="#00ff00"/>
<circle cx="80.36" cy="346.52" r="1.7" fill="#00ff00"/>
<circle cx="103.29" cy="351.48" r="1.7" fill="#00ff00"/>
<circle cx="126.21" cy="355.12" r="1.7" fill="#00ff00"/>
<circle cx="149.14" cy="358.31" r="1.7" fill="#00ff00"/>
<circle cx="172.07" cy="359.86" r="1.7" fill="#00ff00"/>
<circle cx="195.00" cy="361.18" r="1.7" fill="#00ff00"/>
<polyline points="34.50,355.01 57.43,358.76 80.36,361.62 103.29,361.18 126.21,361.18 149.14,362.28 172.07,363.05 195.00,363.05" fill="none" stroke="#0000ff" stroke-width="1.85" stroke-linejoin="round"/>
<path d="M31.80,352.98L37.20,352.98L34.50,357.57Z" fill="#0000ff" stroke="#0000ff" stroke-width="0.8"/>
<path d="M54.73,356.73L60.13,356.73L57.43,361.32Z" fill="#0000ff" stroke="#0000ff" stroke-width="0.8"/>
<path d="M77.66,359.60L83.06,359.60L80.36,364.19Z" fill="#0000ff" stroke="#0000ff" stroke-width="0.8"/>
<path d="M100.59,359.16L105.99,359.16L103.29,363.75Z" fill="#0000ff" stroke="#0000ff" stroke-width="0.8"/>
<path d="M123.51,359.16L128.91,359.16L126.21,363.75Z" fill="#0000ff" stroke="#0000ff" stroke-width="0.8"/>
<path d="M146.44,360.26L151.84,360.26L149.14,364.85Z" fill="#0000ff" stroke="#0000ff" stroke-width="0.8"/>
<path d="M169.37,361.03L174.77,361.03L172.07,365.62Z" fill="#0000ff" stroke="#0000ff" stroke-width="0.8"/>
<path d="M192.30,361.03L197.70,361.03L195.00,365.62Z" fill="#0000ff" stroke="#0000ff" stroke-width="0.8"/>
<polyline points="34.50,338.70 57.43,351.48 80.36,358.54 103.29,361.18 126.21,364.93 149.14,366.91 172.07,367.68 195.00,368.01" fill="none" stroke="#ff0000" stroke-width="1.85" stroke-linejoin="round"/>
<rect x="32.40" y="336.60" width="4.20" height="4.20" fill="#ff0000"/>
<rect x="55.33" y="349.38" width="4.20" height="4.20" fill="#ff0000"/>
<rect x="78.26" y="356.44" width="4.20" height="4.20" fill="#ff0000"/>
<rect x="101.19" y="359.08" width="4.20" height="4.20" fill="#ff0000"/>
<rect x="124.11" y="362.83" width="4.20" height="4.20" fill="#ff0000"/>
<rect x="147.04" y="364.81" width="4.20" height="4.20" fill="#ff0000"/>
<rect x="169.97" y="365.58" width="4.20" height="4.20" fill="#ff0000"/>
<rect x="192.90" y="365.91" width="4.20" height="4.20" fill="#ff0000"/>
<rect x="34.50" y="261.80" width="160.50" height="110.60" fill="none" stroke="#a3a3a3" stroke-width="1"/>
<line x1="57.43" y1="372.40" x2="57.43" y2="370.80" stroke="#a3a3a3" stroke-width="0.8"/>
<line x1="57.43" y1="261.80" x2="57.43" y2="263.40" stroke="#a3a3a3" stroke-width="0.8"/>
<line x1="103.29" y1="372.40" x2="103.29" y2="370.80" stroke="#a3a3a3" stroke-width="0.8"/>
<line x1="103.29" y1="261.80" x2="103.29" y2="263.40" stroke="#a3a3a3" stroke-width="0.8"/>
<line x1="149.14" y1="372.40" x2="149.14" y2="370.80" stroke="#a3a3a3" stroke-width="0.8"/>
<line x1="149.14" y1="261.80" x2="149.14" y2="263.40" stroke="#a3a3a3" stroke-width="0.8"/>
<line x1="34.50" y1="350.28" x2="36.10" y2="350.28" stroke="#a3a3a3" stroke-width="0.8"/>
<line x1="195.00" y1="350.28" x2="193.40" y2="350.28" stroke="#a3a3a3" stroke-width="0.8"/>
<line x1="34.50" y1="328.16" x2="36.10" y2="328.16" stroke="#a3a3a3" stroke-width="0.8"/>
<line x1="195.00" y1="328.16" x2="193.40" y2="328.16" stroke="#a3a3a3" stroke-width="0.8"/>
<line x1="34.50" y1="306.04" x2="36.10" y2="306.04" stroke="#a3a3a3" stroke-width="0.8"/>
<line x1="195.00" y1="306.04" x2="193.40" y2="306.04" stroke="#a3a3a3" stroke-width="0.8"/>
<line x1="34.50" y1="283.92" x2="36.10" y2="283.92" stroke="#a3a3a3" stroke-width="0.8"/>
<line x1="195.00" y1="283.92" x2="193.40" y2="283.92" stroke="#a3a3a3" stroke-width="0.8"/>
<text x="31.50" y="374.90" font-size="10" text-anchor="end" fill="#1c1c1c">0</text>
<text x="31.50" y="352.78" font-size="10" text-anchor="end" fill="#1c1c1c">20</text>
<text x="31.50" y="330.66" font-size="10" text-anchor="end" fill="#1c1c1c">40</text>
<text x="31.50" y="308.54" font-size="10" text-anchor="end" fill="#1c1c1c">60</text>
<text x="31.50" y="286.42" font-size="10" text-anchor="end" fill="#1c1c1c">80</text>
<text x="31.50" y="264.30" font-size="10" text-anchor="end" fill="#1c1c1c">100</text>
<text x="0" y="0" transform="translate(12.8,317.60) rotate(-90) scale(1.04,1)" font-size="9.6" text-anchor="middle" fill="#1c1c1c">GPE (%)</text>
<text x="57.43" y="383.90" font-size="10" text-anchor="middle" fill="#1c1c1c">−10</text>
<text x="103.29" y="383.90" font-size="10" text-anchor="middle" fill="#1c1c1c">0</text>
<text x="149.14" y="383.90" font-size="10" text-anchor="middle" fill="#1c1c1c">10</text>
<text x="195.00" y="383.90" font-size="10" text-anchor="middle" fill="#1c1c1c">20</text>
<text x="114.75" y="397.20" font-size="10" text-anchor="middle" fill="#1c1c1c">SNR (dB)</text>
<line x1="228.49" y1="261.80" x2="228.49" y2="372.40" stroke="#e8e8e8" stroke-width="0.6"/>
<line x1="274.26" y1="261.80" x2="274.26" y2="372.40" stroke="#e8e8e8" stroke-width="0.6"/>
<line x1="320.03" y1="261.80" x2="320.03" y2="372.40" stroke="#e8e8e8" stroke-width="0.6"/>
<line x1="205.60" y1="350.28" x2="365.80" y2="350.28" stroke="#e8e8e8" stroke-width="0.6"/>
<line x1="205.60" y1="328.16" x2="365.80" y2="328.16" stroke="#e8e8e8" stroke-width="0.6"/>
<line x1="205.60" y1="306.04" x2="365.80" y2="306.04" stroke="#e8e8e8" stroke-width="0.6"/>
<line x1="205.60" y1="283.92" x2="365.80" y2="283.92" stroke="#e8e8e8" stroke-width="0.6"/>
<text class="b" transform="translate(286.10,274.20) scale(0.9,1)" font-size="10.0" fill="#1c1c1c">volvo</text>
<text class="b" transform="translate(322.00,274.20) scale(0.9,1)" font-size="10.0" fill="#1c1c1c"><tspan font-style="italic">p</tspan> = 0.1</text>
<polyline points="205.60,267.07 228.49,279.85 251.37,301.89 274.26,324.92 297.14,343.55 320.03,352.36 342.91,358.98 365.80,361.18" fill="none" stroke="#ff00ff" stroke-width="0.62" stroke-linejoin="round"/>
<circle cx="205.60" cy="267.07" r="1.95" fill="none" stroke="#ff00ff" stroke-width="0.95"/>
<circle cx="228.49" cy="279.85" r="1.95" fill="none" stroke="#ff00ff" stroke-width="0.95"/>
<circle cx="251.37" cy="301.89" r="1.95" fill="none" stroke="#ff00ff" stroke-width="0.95"/>
<circle cx="274.26" cy="324.92" r="1.95" fill="none" stroke="#ff00ff" stroke-width="0.95"/>
<circle cx="297.14" cy="343.55" r="1.95" fill="none" stroke="#ff00ff" stroke-width="0.95"/>
<circle cx="320.03" cy="352.36" r="1.95" fill="none" stroke="#ff00ff" stroke-width="0.95"/>
<circle cx="342.91" cy="358.98" r="1.95" fill="none" stroke="#ff00ff" stroke-width="0.95"/>
<circle cx="365.80" cy="361.18" r="1.95" fill="none" stroke="#ff00ff" stroke-width="0.95"/>
<polyline points="205.60,293.08 228.49,314.35 251.37,328.45 274.26,337.49 297.14,341.34 320.03,345.64 342.91,347.52 365.80,347.74" fill="none" stroke="#00ffff" stroke-width="0.62" stroke-linejoin="round"/>
<circle cx="205.60" cy="293.08" r="1.95" fill="none" stroke="#00ffff" stroke-width="0.95"/>
<circle cx="228.49" cy="314.35" r="1.95" fill="none" stroke="#00ffff" stroke-width="0.95"/>
<circle cx="251.37" cy="328.45" r="1.95" fill="none" stroke="#00ffff" stroke-width="0.95"/>
<circle cx="274.26" cy="337.49" r="1.95" fill="none" stroke="#00ffff" stroke-width="0.95"/>
<circle cx="297.14" cy="341.34" r="1.95" fill="none" stroke="#00ffff" stroke-width="0.95"/>
<circle cx="320.03" cy="345.64" r="1.95" fill="none" stroke="#00ffff" stroke-width="0.95"/>
<circle cx="342.91" cy="347.52" r="1.95" fill="none" stroke="#00ffff" stroke-width="0.95"/>
<circle cx="365.80" cy="347.74" r="1.95" fill="none" stroke="#00ffff" stroke-width="0.95"/>
<polyline points="205.60,267.07 228.49,282.17 251.37,306.63 274.26,327.35 297.14,342.78 320.03,351.70 342.91,358.65 365.80,360.08" fill="none" stroke="#000000" stroke-width="0.55" stroke-linejoin="round"/>
<circle cx="205.60" cy="267.07" r="1.95" fill="none" stroke="#000000" stroke-width="0.95"/>
<circle cx="228.49" cy="282.17" r="1.95" fill="none" stroke="#000000" stroke-width="0.95"/>
<circle cx="251.37" cy="306.63" r="1.95" fill="none" stroke="#000000" stroke-width="0.95"/>
<circle cx="274.26" cy="327.35" r="1.95" fill="none" stroke="#000000" stroke-width="0.95"/>
<circle cx="297.14" cy="342.78" r="1.95" fill="none" stroke="#000000" stroke-width="0.95"/>
<circle cx="320.03" cy="351.70" r="1.95" fill="none" stroke="#000000" stroke-width="0.95"/>
<circle cx="342.91" cy="358.65" r="1.95" fill="none" stroke="#000000" stroke-width="0.95"/>
<circle cx="365.80" cy="360.08" r="1.95" fill="none" stroke="#000000" stroke-width="0.95"/>
<polyline points="205.60,272.80 228.49,290.43 251.37,317.43 274.26,341.34 297.14,351.70 320.03,356.77 342.91,358.65 365.80,359.53" fill="none" stroke="#00ff00" stroke-width="0.62" stroke-linejoin="round"/>
<path d="M203.50,271.22L207.70,271.22L205.60,274.79Z" fill="none" stroke="#00ff00" stroke-width="0.9"/>
<path d="M226.39,288.86L230.59,288.86L228.49,292.43Z" fill="none" stroke="#00ff00" stroke-width="0.9"/>
<path d="M249.27,315.86L253.47,315.86L251.37,319.43Z" fill="none" stroke="#00ff00" stroke-width="0.9"/>
<path d="M272.16,339.77L276.36,339.77L274.26,343.34Z" fill="none" stroke="#00ff00" stroke-width="0.9"/>
<path d="M295.04,350.13L299.24,350.13L297.14,353.70Z" fill="none" stroke="#00ff00" stroke-width="0.9"/>
<path d="M317.93,355.20L322.13,355.20L320.03,358.77Z" fill="none" stroke="#00ff00" stroke-width="0.9"/>
<path d="M340.81,357.07L345.01,357.07L342.91,360.64Z" fill="none" stroke="#00ff00" stroke-width="0.9"/>
<path d="M363.70,357.95L367.90,357.95L365.80,361.52Z" fill="none" stroke="#00ff00" stroke-width="0.9"/>
<polyline points="205.60,269.27 228.49,284.81 251.37,307.18 274.26,328.78 297.14,342.78 320.03,354.57 342.91,358.98 365.80,361.18" fill="none" stroke="#0000ff" stroke-width="0.62" stroke-linejoin="round"/>
<circle cx="205.60" cy="269.27" r="1.7" fill="#0000ff"/>
<circle cx="228.49" cy="284.81" r="1.7" fill="#0000ff"/>
<circle cx="251.37" cy="307.18" r="1.7" fill="#0000ff"/>
<circle cx="274.26" cy="328.78" r="1.7" fill="#0000ff"/>
<circle cx="297.14" cy="342.78" r="1.7" fill="#0000ff"/>
<circle cx="320.03" cy="354.57" r="1.7" fill="#0000ff"/>
<circle cx="342.91" cy="358.98" r="1.7" fill="#0000ff"/>
<circle cx="365.80" cy="361.18" r="1.7" fill="#0000ff"/>
<polyline points="205.60,292.53 228.49,314.35 251.37,334.62 274.26,346.41 297.14,353.47 320.03,356.77 342.91,358.98 365.80,360.08" fill="none" stroke="#000000" stroke-width="0.55" stroke-linejoin="round"/>
<path d="M203.50,290.95L207.70,290.95L205.60,294.52Z" fill="none" stroke="#000000" stroke-width="0.9"/>
<path d="M226.39,312.77L230.59,312.77L228.49,316.34Z" fill="none" stroke="#000000" stroke-width="0.9"/>
<path d="M249.27,333.05L253.47,333.05L251.37,336.62Z" fill="none" stroke="#000000" stroke-width="0.9"/>
<path d="M272.16,344.84L276.36,344.84L274.26,348.41Z" fill="none" stroke="#000000" stroke-width="0.9"/>
<path d="M295.04,351.89L299.24,351.89L297.14,355.46Z" fill="none" stroke="#000000" stroke-width="0.9"/>
<path d="M317.93,355.20L322.13,355.20L320.03,358.77Z" fill="none" stroke="#000000" stroke-width="0.9"/>
<path d="M340.81,357.40L345.01,357.40L342.91,360.97Z" fill="none" stroke="#000000" stroke-width="0.9"/>
<path d="M363.70,358.50L367.90,358.50L365.80,362.07Z" fill="none" stroke="#000000" stroke-width="0.9"/>
<polyline points="205.60,314.01 228.49,333.63 251.37,346.63 274.26,354.57 297.14,358.98 320.03,362.28 342.91,364.49 365.80,365.59" fill="none" stroke="#00ffff" stroke-width="0.62" stroke-linejoin="round"/>
<path d="M203.50,312.44L207.70,312.44L205.60,316.01Z" fill="none" stroke="#00ffff" stroke-width="0.9"/>
<path d="M226.39,332.06L230.59,332.06L228.49,335.62Z" fill="none" stroke="#00ffff" stroke-width="0.9"/>
<path d="M249.27,345.06L253.47,345.06L251.37,348.63Z" fill="none" stroke="#00ffff" stroke-width="0.9"/>
<path d="M272.16,352.99L276.36,352.99L274.26,356.56Z" fill="none" stroke="#00ffff" stroke-width="0.9"/>
<path d="M295.04,357.40L299.24,357.40L297.14,360.97Z" fill="none" stroke="#00ffff" stroke-width="0.9"/>
<path d="M317.93,360.71L322.13,360.71L320.03,364.28Z" fill="none" stroke="#00ffff" stroke-width="0.9"/>
<path d="M340.81,362.91L345.01,362.91L342.91,366.48Z" fill="none" stroke="#00ffff" stroke-width="0.9"/>
<path d="M363.70,364.01L367.90,364.01L365.80,367.58Z" fill="none" stroke="#00ffff" stroke-width="0.9"/>
<polyline points="205.60,309.39 228.49,331.54 251.37,346.63 274.26,355.67 297.14,360.08 320.03,362.28 342.91,364.49 365.80,365.59" fill="none" stroke="#ff00ff" stroke-width="0.62" stroke-linejoin="round"/>
<circle cx="205.60" cy="309.39" r="1.7" fill="#ff00ff"/>
<circle cx="228.49" cy="331.54" r="1.7" fill="#ff00ff"/>
<circle cx="251.37" cy="346.63" r="1.7" fill="#ff00ff"/>
<circle cx="274.26" cy="355.67" r="1.7" fill="#ff00ff"/>
<circle cx="297.14" cy="360.08" r="1.7" fill="#ff00ff"/>
<circle cx="320.03" cy="362.28" r="1.7" fill="#ff00ff"/>
<circle cx="342.91" cy="364.49" r="1.7" fill="#ff00ff"/>
<circle cx="365.80" cy="365.59" r="1.7" fill="#ff00ff"/>
<polyline points="205.60,327.79 228.49,338.26 251.37,345.09 274.26,349.61 297.14,351.70 320.03,356.77 342.91,358.65 365.80,359.53" fill="none" stroke="#00ff00" stroke-width="0.62" stroke-linejoin="round"/>
<circle cx="205.60" cy="327.79" r="1.7" fill="#00ff00"/>
<circle cx="228.49" cy="338.26" r="1.7" fill="#00ff00"/>
<circle cx="251.37" cy="345.09" r="1.7" fill="#00ff00"/>
<circle cx="274.26" cy="349.61" r="1.7" fill="#00ff00"/>
<circle cx="297.14" cy="351.70" r="1.7" fill="#00ff00"/>
<circle cx="320.03" cy="356.77" r="1.7" fill="#00ff00"/>
<circle cx="342.91" cy="358.65" r="1.7" fill="#00ff00"/>
<circle cx="365.80" cy="359.53" r="1.7" fill="#00ff00"/>
<polyline points="205.60,345.97 228.49,351.26 251.37,353.47 274.26,353.47 297.14,353.69 320.03,355.23 342.91,355.23 365.80,354.02" fill="none" stroke="#0000ff" stroke-width="1.85" stroke-linejoin="round"/>
<path d="M202.90,343.95L208.30,343.95L205.60,348.54Z" fill="#0000ff" stroke="#0000ff" stroke-width="0.8"/>
<path d="M225.79,349.24L231.19,349.24L228.49,353.83Z" fill="#0000ff" stroke="#0000ff" stroke-width="0.8"/>
<path d="M248.67,351.44L254.07,351.44L251.37,356.03Z" fill="#0000ff" stroke="#0000ff" stroke-width="0.8"/>
<path d="M271.56,351.44L276.96,351.44L274.26,356.03Z" fill="#0000ff" stroke="#0000ff" stroke-width="0.8"/>
<path d="M294.44,351.66L299.84,351.66L297.14,356.25Z" fill="#0000ff" stroke="#0000ff" stroke-width="0.8"/>
<path d="M317.33,353.20L322.73,353.20L320.03,357.79Z" fill="#0000ff" stroke="#0000ff" stroke-width="0.8"/>
<path d="M340.21,353.20L345.61,353.20L342.91,357.79Z" fill="#0000ff" stroke="#0000ff" stroke-width="0.8"/>
<path d="M363.10,351.99L368.50,351.99L365.80,356.58Z" fill="#0000ff" stroke="#0000ff" stroke-width="0.8"/>
<polyline points="205.60,334.62 228.49,348.73 251.37,354.90 274.26,358.98 297.14,361.84 320.03,363.82 342.91,364.60 365.80,364.60" fill="none" stroke="#ff0000" stroke-width="1.85" stroke-linejoin="round"/>
<rect x="203.50" y="332.52" width="4.20" height="4.20" fill="#ff0000"/>
<rect x="226.39" y="346.63" width="4.20" height="4.20" fill="#ff0000"/>
<rect x="249.27" y="352.80" width="4.20" height="4.20" fill="#ff0000"/>
<rect x="272.16" y="356.88" width="4.20" height="4.20" fill="#ff0000"/>
<rect x="295.04" y="359.74" width="4.20" height="4.20" fill="#ff0000"/>
<rect x="317.93" y="361.72" width="4.20" height="4.20" fill="#ff0000"/>
<rect x="340.81" y="362.50" width="4.20" height="4.20" fill="#ff0000"/>
<rect x="363.70" y="362.50" width="4.20" height="4.20" fill="#ff0000"/>
<rect x="205.60" y="261.80" width="160.20" height="110.60" fill="none" stroke="#a3a3a3" stroke-width="1"/>
<line x1="228.49" y1="372.40" x2="228.49" y2="370.80" stroke="#a3a3a3" stroke-width="0.8"/>
<line x1="228.49" y1="261.80" x2="228.49" y2="263.40" stroke="#a3a3a3" stroke-width="0.8"/>
<line x1="274.26" y1="372.40" x2="274.26" y2="370.80" stroke="#a3a3a3" stroke-width="0.8"/>
<line x1="274.26" y1="261.80" x2="274.26" y2="263.40" stroke="#a3a3a3" stroke-width="0.8"/>
<line x1="320.03" y1="372.40" x2="320.03" y2="370.80" stroke="#a3a3a3" stroke-width="0.8"/>
<line x1="320.03" y1="261.80" x2="320.03" y2="263.40" stroke="#a3a3a3" stroke-width="0.8"/>
<line x1="205.60" y1="350.28" x2="207.20" y2="350.28" stroke="#a3a3a3" stroke-width="0.8"/>
<line x1="365.80" y1="350.28" x2="364.20" y2="350.28" stroke="#a3a3a3" stroke-width="0.8"/>
<line x1="205.60" y1="328.16" x2="207.20" y2="328.16" stroke="#a3a3a3" stroke-width="0.8"/>
<line x1="365.80" y1="328.16" x2="364.20" y2="328.16" stroke="#a3a3a3" stroke-width="0.8"/>
<line x1="205.60" y1="306.04" x2="207.20" y2="306.04" stroke="#a3a3a3" stroke-width="0.8"/>
<line x1="365.80" y1="306.04" x2="364.20" y2="306.04" stroke="#a3a3a3" stroke-width="0.8"/>
<line x1="205.60" y1="283.92" x2="207.20" y2="283.92" stroke="#a3a3a3" stroke-width="0.8"/>
<line x1="365.80" y1="283.92" x2="364.20" y2="283.92" stroke="#a3a3a3" stroke-width="0.8"/>
<text x="228.49" y="383.90" font-size="10" text-anchor="middle" fill="#1c1c1c">−10</text>
<text x="274.26" y="383.90" font-size="10" text-anchor="middle" fill="#1c1c1c">0</text>
<text x="320.03" y="383.90" font-size="10" text-anchor="middle" fill="#1c1c1c">10</text>
<text x="365.80" y="383.90" font-size="10" text-anchor="middle" fill="#1c1c1c">20</text>
<text x="285.70" y="397.20" font-size="10" text-anchor="middle" fill="#1c1c1c">SNR (dB)</text>
<line x1="399.47" y1="261.80" x2="399.47" y2="372.40" stroke="#e8e8e8" stroke-width="0.6"/>
<line x1="445.41" y1="261.80" x2="445.41" y2="372.40" stroke="#e8e8e8" stroke-width="0.6"/>
<line x1="491.36" y1="261.80" x2="491.36" y2="372.40" stroke="#e8e8e8" stroke-width="0.6"/>
<line x1="376.50" y1="350.28" x2="537.30" y2="350.28" stroke="#e8e8e8" stroke-width="0.6"/>
<line x1="376.50" y1="328.16" x2="537.30" y2="328.16" stroke="#e8e8e8" stroke-width="0.6"/>
<line x1="376.50" y1="306.04" x2="537.30" y2="306.04" stroke="#e8e8e8" stroke-width="0.6"/>
<line x1="376.50" y1="283.92" x2="537.30" y2="283.92" stroke="#e8e8e8" stroke-width="0.6"/>
<text class="b" transform="translate(457.00,274.20) scale(0.9,1)" font-size="10.0" fill="#1c1c1c">volvo</text>
<text class="b" transform="translate(492.90,274.20) scale(0.9,1)" font-size="10.0" fill="#1c1c1c"><tspan font-style="italic">p</tspan> = 0.05</text>
<polyline points="376.50,266.63 399.47,277.98 422.44,299.80 445.41,324.81 468.39,341.34 491.36,352.36 514.33,356.77 537.30,358.98" fill="none" stroke="#ff00ff" stroke-width="0.62" stroke-linejoin="round"/>
<circle cx="376.50" cy="266.63" r="1.95" fill="none" stroke="#ff00ff" stroke-width="0.95"/>
<circle cx="399.47" cy="277.98" r="1.95" fill="none" stroke="#ff00ff" stroke-width="0.95"/>
<circle cx="422.44" cy="299.80" r="1.95" fill="none" stroke="#ff00ff" stroke-width="0.95"/>
<circle cx="445.41" cy="324.81" r="1.95" fill="none" stroke="#ff00ff" stroke-width="0.95"/>
<circle cx="468.39" cy="341.34" r="1.95" fill="none" stroke="#ff00ff" stroke-width="0.95"/>
<circle cx="491.36" cy="352.36" r="1.95" fill="none" stroke="#ff00ff" stroke-width="0.95"/>
<circle cx="514.33" cy="356.77" r="1.95" fill="none" stroke="#ff00ff" stroke-width="0.95"/>
<circle cx="537.30" cy="358.98" r="1.95" fill="none" stroke="#ff00ff" stroke-width="0.95"/>
<polyline points="376.50,284.81 399.47,297.26 422.44,310.93 445.41,319.74 468.39,324.70 491.36,326.91 514.33,328.12 537.30,328.89" fill="none" stroke="#00ffff" stroke-width="0.62" stroke-linejoin="round"/>
<circle cx="376.50" cy="284.81" r="1.95" fill="none" stroke="#00ffff" stroke-width="0.95"/>
<circle cx="399.47" cy="297.26" r="1.95" fill="none" stroke="#00ffff" stroke-width="0.95"/>
<circle cx="422.44" cy="310.93" r="1.95" fill="none" stroke="#00ffff" stroke-width="0.95"/>
<circle cx="445.41" cy="319.74" r="1.95" fill="none" stroke="#00ffff" stroke-width="0.95"/>
<circle cx="468.39" cy="324.70" r="1.95" fill="none" stroke="#00ffff" stroke-width="0.95"/>
<circle cx="491.36" cy="326.91" r="1.95" fill="none" stroke="#00ffff" stroke-width="0.95"/>
<circle cx="514.33" cy="328.12" r="1.95" fill="none" stroke="#00ffff" stroke-width="0.95"/>
<circle cx="537.30" cy="328.89" r="1.95" fill="none" stroke="#00ffff" stroke-width="0.95"/>
<polyline points="376.50,266.63 399.47,279.85 422.44,302.44 445.41,323.16 468.39,339.03 491.36,346.74 514.33,350.71 537.30,352.25" fill="none" stroke="#000000" stroke-width="0.55" stroke-linejoin="round"/>
<circle cx="376.50" cy="266.63" r="1.95" fill="none" stroke="#000000" stroke-width="0.95"/>
<circle cx="399.47" cy="279.85" r="1.95" fill="none" stroke="#000000" stroke-width="0.95"/>
<circle cx="422.44" cy="302.44" r="1.95" fill="none" stroke="#000000" stroke-width="0.95"/>
<circle cx="445.41" cy="323.16" r="1.95" fill="none" stroke="#000000" stroke-width="0.95"/>
<circle cx="468.39" cy="339.03" r="1.95" fill="none" stroke="#000000" stroke-width="0.95"/>
<circle cx="491.36" cy="346.74" r="1.95" fill="none" stroke="#000000" stroke-width="0.95"/>
<circle cx="514.33" cy="350.71" r="1.95" fill="none" stroke="#000000" stroke-width="0.95"/>
<circle cx="537.30" cy="352.25" r="1.95" fill="none" stroke="#000000" stroke-width="0.95"/>
<polyline points="376.50,272.80 399.47,286.02 422.44,310.93 445.41,334.73 468.39,346.63 491.36,350.60 514.33,353.03 537.30,353.80" fill="none" stroke="#00ff00" stroke-width="0.62" stroke-linejoin="round"/>
<path d="M374.40,271.22L378.60,271.22L376.50,274.79Z" fill="none" stroke="#00ff00" stroke-width="0.9"/>
<path d="M397.37,284.45L401.57,284.45L399.47,288.02Z" fill="none" stroke="#00ff00" stroke-width="0.9"/>
<path d="M420.34,309.35L424.54,309.35L422.44,312.92Z" fill="none" stroke="#00ff00" stroke-width="0.9"/>
<path d="M443.31,333.16L447.51,333.16L445.41,336.73Z" fill="none" stroke="#00ff00" stroke-width="0.9"/>
<path d="M466.29,345.06L470.49,345.06L468.39,348.63Z" fill="none" stroke="#00ff00" stroke-width="0.9"/>
<path d="M489.26,349.03L493.46,349.03L491.36,352.60Z" fill="none" stroke="#00ff00" stroke-width="0.9"/>
<path d="M512.23,351.45L516.43,351.45L514.33,355.02Z" fill="none" stroke="#00ff00" stroke-width="0.9"/>
<path d="M535.20,352.22L539.40,352.22L537.30,355.79Z" fill="none" stroke="#00ff00" stroke-width="0.9"/>
<polyline points="376.50,268.17 399.47,282.17 422.44,302.77 445.41,323.38 468.39,339.03 491.36,346.74 514.33,350.71 537.30,352.92" fill="none" stroke="#0000ff" stroke-width="0.62" stroke-linejoin="round"/>
<circle cx="376.50" cy="268.17" r="1.7" fill="#0000ff"/>
<circle cx="399.47" cy="282.17" r="1.7" fill="#0000ff"/>
<circle cx="422.44" cy="302.77" r="1.7" fill="#0000ff"/>
<circle cx="445.41" cy="323.38" r="1.7" fill="#0000ff"/>
<circle cx="468.39" cy="339.03" r="1.7" fill="#0000ff"/>
<circle cx="491.36" cy="346.74" r="1.7" fill="#0000ff"/>
<circle cx="514.33" cy="350.71" r="1.7" fill="#0000ff"/>
<circle cx="537.30" cy="352.92" r="1.7" fill="#0000ff"/>
<polyline points="376.50,290.76 399.47,311.26 422.44,329.66 445.41,341.78 468.39,346.63 491.36,350.60 514.33,353.03 537.30,353.80" fill="none" stroke="#000000" stroke-width="0.55" stroke-linejoin="round"/>
<path d="M374.40,289.19L378.60,289.19L376.50,292.76Z" fill="none" stroke="#000000" stroke-width="0.9"/>
<path d="M397.37,309.68L401.57,309.68L399.47,313.25Z" fill="none" stroke="#000000" stroke-width="0.9"/>
<path d="M420.34,328.09L424.54,328.09L422.44,331.66Z" fill="none" stroke="#000000" stroke-width="0.9"/>
<path d="M443.31,340.21L447.51,340.21L445.41,343.78Z" fill="none" stroke="#000000" stroke-width="0.9"/>
<path d="M466.29,345.06L470.49,345.06L468.39,348.63Z" fill="none" stroke="#000000" stroke-width="0.9"/>
<path d="M489.26,349.03L493.46,349.03L491.36,352.60Z" fill="none" stroke="#000000" stroke-width="0.9"/>
<path d="M512.23,351.45L516.43,351.45L514.33,355.02Z" fill="none" stroke="#000000" stroke-width="0.9"/>
<path d="M535.20,352.22L539.40,352.22L537.30,355.79Z" fill="none" stroke="#000000" stroke-width="0.9"/>
<polyline points="376.50,311.70 399.47,328.01 422.44,343.55 445.41,350.16 468.39,358.54 491.36,358.98 514.33,360.74 537.30,361.51" fill="none" stroke="#00ffff" stroke-width="0.62" stroke-linejoin="round"/>
<path d="M374.40,310.13L378.60,310.13L376.50,313.70Z" fill="none" stroke="#00ffff" stroke-width="0.9"/>
<path d="M397.37,326.43L401.57,326.43L399.47,330.00Z" fill="none" stroke="#00ffff" stroke-width="0.9"/>
<path d="M420.34,341.97L424.54,341.97L422.44,345.54Z" fill="none" stroke="#00ffff" stroke-width="0.9"/>
<path d="M443.31,348.58L447.51,348.58L445.41,352.15Z" fill="none" stroke="#00ffff" stroke-width="0.9"/>
<path d="M466.29,356.96L470.49,356.96L468.39,360.53Z" fill="none" stroke="#00ffff" stroke-width="0.9"/>
<path d="M489.26,357.40L493.46,357.40L491.36,360.97Z" fill="none" stroke="#00ffff" stroke-width="0.9"/>
<path d="M512.23,359.16L516.43,359.16L514.33,362.73Z" fill="none" stroke="#00ffff" stroke-width="0.9"/>
<path d="M535.20,359.94L539.40,359.94L537.30,363.51Z" fill="none" stroke="#00ffff" stroke-width="0.9"/>
<polyline points="376.50,307.07 399.47,324.92 422.44,341.34 445.41,349.94 468.39,355.67 491.36,358.54 514.33,360.08 537.30,360.63" fill="none" stroke="#ff00ff" stroke-width="0.62" stroke-linejoin="round"/>
<circle cx="376.50" cy="307.07" r="1.7" fill="#ff00ff"/>
<circle cx="399.47" cy="324.92" r="1.7" fill="#ff00ff"/>
<circle cx="422.44" cy="341.34" r="1.7" fill="#ff00ff"/>
<circle cx="445.41" cy="349.94" r="1.7" fill="#ff00ff"/>
<circle cx="468.39" cy="355.67" r="1.7" fill="#ff00ff"/>
<circle cx="491.36" cy="358.54" r="1.7" fill="#ff00ff"/>
<circle cx="514.33" cy="360.08" r="1.7" fill="#ff00ff"/>
<circle cx="537.30" cy="360.63" r="1.7" fill="#ff00ff"/>
<polyline points="376.50,324.92 399.47,334.62 422.44,341.34 445.41,345.09 468.39,348.18 491.36,350.60 514.33,353.03 537.30,353.80" fill="none" stroke="#00ff00" stroke-width="0.62" stroke-linejoin="round"/>
<circle cx="376.50" cy="324.92" r="1.7" fill="#00ff00"/>
<circle cx="399.47" cy="334.62" r="1.7" fill="#00ff00"/>
<circle cx="422.44" cy="341.34" r="1.7" fill="#00ff00"/>
<circle cx="445.41" cy="345.09" r="1.7" fill="#00ff00"/>
<circle cx="468.39" cy="348.18" r="1.7" fill="#00ff00"/>
<circle cx="491.36" cy="350.60" r="1.7" fill="#00ff00"/>
<circle cx="514.33" cy="353.03" r="1.7" fill="#00ff00"/>
<circle cx="537.30" cy="353.80" r="1.7" fill="#00ff00"/>
<polyline points="376.50,326.25 399.47,331.98 422.44,332.42 445.41,333.08 468.39,332.75 491.36,333.08 514.33,332.75 537.30,332.75" fill="none" stroke="#0000ff" stroke-width="1.85" stroke-linejoin="round"/>
<path d="M373.80,324.22L379.20,324.22L376.50,328.81Z" fill="#0000ff" stroke="#0000ff" stroke-width="0.8"/>
<path d="M396.77,329.95L402.17,329.95L399.47,334.54Z" fill="#0000ff" stroke="#0000ff" stroke-width="0.8"/>
<path d="M419.74,330.39L425.14,330.39L422.44,334.98Z" fill="#0000ff" stroke="#0000ff" stroke-width="0.8"/>
<path d="M442.71,331.05L448.11,331.05L445.41,335.64Z" fill="#0000ff" stroke="#0000ff" stroke-width="0.8"/>
<path d="M465.69,330.72L471.09,330.72L468.39,335.31Z" fill="#0000ff" stroke="#0000ff" stroke-width="0.8"/>
<path d="M488.66,331.05L494.06,331.05L491.36,335.64Z" fill="#0000ff" stroke="#0000ff" stroke-width="0.8"/>
<path d="M511.63,330.72L517.03,330.72L514.33,335.31Z" fill="#0000ff" stroke="#0000ff" stroke-width="0.8"/>
<path d="M534.60,330.72L540.00,330.72L537.30,335.31Z" fill="#0000ff" stroke="#0000ff" stroke-width="0.8"/>
<polyline points="376.50,328.89 399.47,342.45 422.44,348.07 445.41,352.25 468.39,353.80 491.36,355.23 514.33,356.11 537.30,355.78" fill="none" stroke="#ff0000" stroke-width="1.85" stroke-linejoin="round"/>
<rect x="374.40" y="326.79" width="4.20" height="4.20" fill="#ff0000"/>
<rect x="397.37" y="340.35" width="4.20" height="4.20" fill="#ff0000"/>
<rect x="420.34" y="345.97" width="4.20" height="4.20" fill="#ff0000"/>
<rect x="443.31" y="350.15" width="4.20" height="4.20" fill="#ff0000"/>
<rect x="466.29" y="351.70" width="4.20" height="4.20" fill="#ff0000"/>
<rect x="489.26" y="353.13" width="4.20" height="4.20" fill="#ff0000"/>
<rect x="512.23" y="354.01" width="4.20" height="4.20" fill="#ff0000"/>
<rect x="535.20" y="353.68" width="4.20" height="4.20" fill="#ff0000"/>
<rect x="376.50" y="261.80" width="160.80" height="110.60" fill="none" stroke="#a3a3a3" stroke-width="1"/>
<line x1="399.47" y1="372.40" x2="399.47" y2="370.80" stroke="#a3a3a3" stroke-width="0.8"/>
<line x1="399.47" y1="261.80" x2="399.47" y2="263.40" stroke="#a3a3a3" stroke-width="0.8"/>
<line x1="445.41" y1="372.40" x2="445.41" y2="370.80" stroke="#a3a3a3" stroke-width="0.8"/>
<line x1="445.41" y1="261.80" x2="445.41" y2="263.40" stroke="#a3a3a3" stroke-width="0.8"/>
<line x1="491.36" y1="372.40" x2="491.36" y2="370.80" stroke="#a3a3a3" stroke-width="0.8"/>
<line x1="491.36" y1="261.80" x2="491.36" y2="263.40" stroke="#a3a3a3" stroke-width="0.8"/>
<line x1="376.50" y1="350.28" x2="378.10" y2="350.28" stroke="#a3a3a3" stroke-width="0.8"/>
<line x1="537.30" y1="350.28" x2="535.70" y2="350.28" stroke="#a3a3a3" stroke-width="0.8"/>
<line x1="376.50" y1="328.16" x2="378.10" y2="328.16" stroke="#a3a3a3" stroke-width="0.8"/>
<line x1="537.30" y1="328.16" x2="535.70" y2="328.16" stroke="#a3a3a3" stroke-width="0.8"/>
<line x1="376.50" y1="306.04" x2="378.10" y2="306.04" stroke="#a3a3a3" stroke-width="0.8"/>
<line x1="537.30" y1="306.04" x2="535.70" y2="306.04" stroke="#a3a3a3" stroke-width="0.8"/>
<line x1="376.50" y1="283.92" x2="378.10" y2="283.92" stroke="#a3a3a3" stroke-width="0.8"/>
<line x1="537.30" y1="283.92" x2="535.70" y2="283.92" stroke="#a3a3a3" stroke-width="0.8"/>
<text x="399.47" y="383.90" font-size="10" text-anchor="middle" fill="#1c1c1c">−10</text>
<text x="445.41" y="383.90" font-size="10" text-anchor="middle" fill="#1c1c1c">0</text>
<text x="491.36" y="383.90" font-size="10" text-anchor="middle" fill="#1c1c1c">10</text>
<text x="537.30" y="383.90" font-size="10" text-anchor="middle" fill="#1c1c1c">20</text>
<text x="456.90" y="397.20" font-size="10" text-anchor="middle" fill="#1c1c1c">SNR (dB)</text>
<line x1="6.4" y1="9.3" x2="24.8" y2="9.3" stroke="#ff00ff" stroke-width="0.62"/>
<circle cx="15.60" cy="9.30" r="1.95" fill="none" stroke="#ff00ff" stroke-width="0.95"/>
<text class="b" transform="translate(27.4,12.60) scale(0.96,1)" font-size="9.5" fill="#1c1c1c">YIN</text>
<line x1="46.5" y1="9.3" x2="64.3" y2="9.3" stroke="#00ffff" stroke-width="0.62"/>
<circle cx="55.40" cy="9.30" r="1.95" fill="none" stroke="#00ffff" stroke-width="0.95"/>
<text class="b" transform="translate(66.6,12.60) scale(0.96,1)" font-size="9.5" fill="#1c1c1c">PEFAC</text>
<line x1="99.7" y1="9.3" x2="117.5" y2="9.3" stroke="#000000" stroke-width="0.55"/>
<circle cx="108.60" cy="9.30" r="1.95" fill="none" stroke="#000000" stroke-width="0.95"/>
<text class="b" transform="translate(119.6,12.60) scale(0.96,1)" font-size="9.5" fill="#1c1c1c">RAPT</text>
<line x1="146.1" y1="9.3" x2="165.2" y2="9.3" stroke="#00ff00" stroke-width="0.62"/>
<path d="M153.55,7.73L157.75,7.73L155.65,11.29Z" fill="none" stroke="#00ff00" stroke-width="0.9"/>
<text class="b" transform="translate(167.4,12.60) scale(0.96,1)" font-size="9.5" fill="#1c1c1c">YAAPT</text>
<line x1="201.4" y1="9.3" x2="219.2" y2="9.3" stroke="#0000ff" stroke-width="0.62"/>
<circle cx="210.30" cy="9.30" r="1.7" fill="#0000ff"/>
<text class="b" transform="translate(220.8,12.60) scale(0.96,1)" font-size="9.5" fill="#1c1c1c">NCF</text>
<line x1="242.7" y1="9.3" x2="260.6" y2="9.3" stroke="#000000" stroke-width="0.55"/>
<path d="M249.55,7.73L253.75,7.73L251.65,11.29Z" fill="none" stroke="#000000" stroke-width="0.9"/>
<text class="b" transform="translate(262.2,12.60) scale(0.96,1)" font-size="9.5" fill="#1c1c1c">CREPE</text>
<line x1="295.5" y1="9.3" x2="313.3" y2="9.3" stroke="#00ffff" stroke-width="0.62"/>
<path d="M302.30,7.73L306.50,7.73L304.40,11.29Z" fill="none" stroke="#00ffff" stroke-width="0.9"/>
<text class="b" transform="translate(315.0,12.60) scale(0.96,1)" font-size="9.5" fill="#1c1c1c">SHR</text>
<line x1="336.1" y1="9.3" x2="354.5" y2="9.3" stroke="#ff00ff" stroke-width="0.62"/>
<circle cx="345.30" cy="9.30" r="1.7" fill="#ff00ff"/>
<text class="b" transform="translate(356.3,12.60) scale(0.96,1)" font-size="9.5" fill="#1c1c1c">SWIPE</text>
<line x1="386.7" y1="9.3" x2="406" y2="9.3" stroke="#00ff00" stroke-width="0.62"/>
<circle cx="396.35" cy="9.30" r="1.7" fill="#00ff00"/>
<text class="b" transform="translate(407.5,12.60) scale(0.96,1)" font-size="9.5" fill="#1c1c1c">SRH</text>
<line x1="429" y1="9.3" x2="447.1" y2="9.3" stroke="#0000ff" stroke-width="1.85"/>
<path d="M435.35,7.28L440.75,7.28L438.05,11.87Z" fill="#0000ff" stroke="#0000ff" stroke-width="0.8"/>
<text class="b" transform="translate(449,12.60) scale(0.96,1)" font-size="9.5" fill="#1c1c1c">fast NLS</text>
<line x1="485.6" y1="9.3" x2="503.6" y2="9.3" stroke="#ff0000" stroke-width="1.85"/>
<rect x="492.50" y="7.20" width="4.20" height="4.20" fill="#ff0000"/>
<text class="b" transform="translate(505,12.60) scale(0.96,1)" font-size="9.5" fill="#1c1c1c">Proposed</text>
</svg>
</body></html>
